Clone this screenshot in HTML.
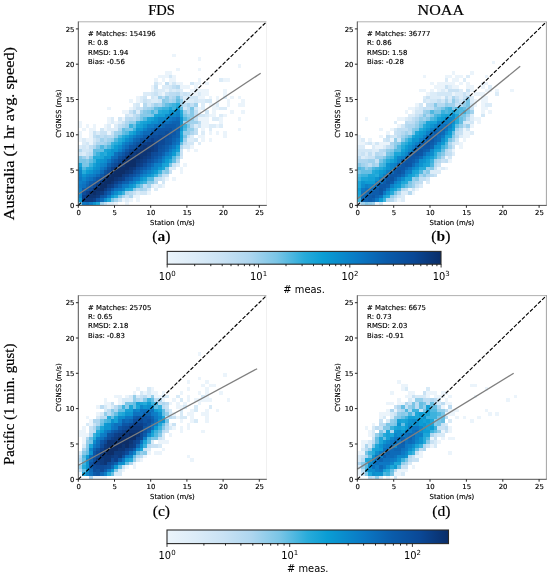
<!DOCTYPE html>
<html><head><meta charset="utf-8"><title>CYGNSS vs station wind speed</title>
<style>
html,body{margin:0;padding:0;background:#fff;}
svg{display:block;}
.t{font-family:"DejaVu Sans","Liberation Sans",sans-serif;font-size:6.9px;fill:#000;stroke:#000;stroke-width:0.15px;}
.c{font-family:"DejaVu Sans","Liberation Sans",sans-serif;font-size:9.9px;fill:#000;}
.s{font-family:"Liberation Serif","DejaVu Serif",serif;fill:#000;stroke:#000;stroke-width:0.2px;}
</style></head><body>
<svg width="550" height="577" viewBox="0 0 550 577">
<defs><linearGradient id="cm" x1="0" x2="1" y1="0" y2="0">
<stop offset="0.0" stop-color="#ebf4fb"/>
<stop offset="0.1" stop-color="#dcecf8"/>
<stop offset="0.2" stop-color="#c9e2f4"/>
<stop offset="0.3" stop-color="#aed6ef"/>
<stop offset="0.4" stop-color="#7ac5e6"/>
<stop offset="0.5" stop-color="#28abda"/>
<stop offset="0.57" stop-color="#0a9dd4"/>
<stop offset="0.7" stop-color="#0a78c4"/>
<stop offset="0.8" stop-color="#0a5cab"/>
<stop offset="0.9" stop-color="#0a4896"/>
<stop offset="1.0" stop-color="#0a2d68"/>
</linearGradient><filter id="bl" x="-5%" y="-5%" width="110%" height="110%"><feGaussianBlur stdDeviation="0.55"/></filter></defs>
<rect width="550" height="577" fill="#fff"/>
<clipPath id="cpa"><rect x="78.3" y="21.8" width="188.2" height="183.6"/></clipPath>
<g clip-path="url(#cpa)"><g filter="url(#bl)"><g transform="translate(78.3,205.4) scale(3.6192,-3.5308)" shape-rendering="crispEdges">
<path fill="#ebf4fb" d="M0 18h1v1h-1zM0 19h1v1h-1zM0 20h1v1h-1zM0 22h1v1h-1zM0 23h1v1h-1zM1 21h1v1h-1zM2 18h1v1h-1zM2 22h1v1h-1zM3 17h1v1h-1zM3 18h1v1h-1zM3 19h1v1h-1zM3 20h1v1h-1zM3 21h1v1h-1zM4 21h1v1h-1zM4 22h1v1h-1zM7 21h1v1h-1zM7 22h1v1h-1zM8 20h1v1h-1zM8 23h1v1h-1zM8 24h1v1h-1zM8 27h1v1h-1zM10 0h1v1h-1zM10 23h1v1h-1zM12 1h1v1h-1zM12 24h1v1h-1zM12 26h1v1h-1zM13 0h1v1h-1zM13 26h1v1h-1zM14 1h1v1h-1zM14 27h1v1h-1zM14 29h1v1h-1zM15 2h1v1h-1zM16 1h1v1h-1zM16 2h1v1h-1zM16 29h1v1h-1zM16 30h1v1h-1zM19 3h1v1h-1zM20 32h1v1h-1zM20 33h1v1h-1zM21 5h1v1h-1zM21 35h1v1h-1zM22 34h1v1h-1zM22 36h1v1h-1zM23 5h1v1h-1zM23 31h1v1h-1zM23 35h1v1h-1zM23 36h1v1h-1zM24 7h1v1h-1zM24 32h1v1h-1zM24 36h1v1h-1zM24 37h1v1h-1zM25 34h1v1h-1zM25 35h1v1h-1zM25 37h1v1h-1zM26 7h1v1h-1zM26 35h1v1h-1zM26 36h1v1h-1zM26 42h1v1h-1zM27 34h1v1h-1zM27 38h1v1h-1zM28 9h1v1h-1zM28 10h1v1h-1zM28 33h1v1h-1zM28 34h1v1h-1zM29 11h1v1h-1zM29 33h1v1h-1zM30 15h1v1h-1zM30 33h1v1h-1zM31 16h1v1h-1zM31 31h1v1h-1zM31 32h1v1h-1zM32 15h1v1h-1zM32 31h1v1h-1zM32 32h1v1h-1zM32 33h1v1h-1zM32 34h1v1h-1zM33 19h1v1h-1zM33 24h1v1h-1zM33 26h1v1h-1zM33 27h1v1h-1zM33 30h1v1h-1zM33 32h1v1h-1zM33 34h1v1h-1zM33 35h1v1h-1zM33 38h1v1h-1zM33 41h1v1h-1zM34 18h1v1h-1zM34 19h1v1h-1zM34 21h1v1h-1zM34 22h1v1h-1zM34 23h1v1h-1zM34 24h1v1h-1zM34 30h1v1h-1zM34 31h1v1h-1zM34 32h1v1h-1zM35 22h1v1h-1zM35 23h1v1h-1zM35 24h1v1h-1zM35 31h1v1h-1zM35 32h1v1h-1zM35 34h1v1h-1zM36 18h1v1h-1zM36 20h1v1h-1zM36 25h1v1h-1zM36 28h1v1h-1zM36 30h1v1h-1zM37 25h1v1h-1zM37 26h1v1h-1zM37 27h1v1h-1zM37 28h1v1h-1zM38 20h1v1h-1zM38 22h1v1h-1zM38 27h1v1h-1zM38 29h1v1h-1zM38 30h1v1h-1zM39 23h1v1h-1zM39 24h1v1h-1zM40 19h1v1h-1zM40 20h1v1h-1zM40 25h1v1h-1zM40 31h1v1h-1zM40 32h1v1h-1zM40 35h1v1h-1zM41 28h1v1h-1zM41 29h1v1h-1zM41 35h1v1h-1zM42 26h1v1h-1zM42 30h1v1h-1zM44 21h1v1h-1zM44 24h1v1h-1zM44 28h1v1h-1zM44 30h1v1h-1zM44 39h1v1h-1zM45 26h1v1h-1zM45 28h1v1h-1zM45 29h1v1h-1z"/>
<path fill="#dcecf8" d="M0 16h1v1h-1zM1 14h1v1h-1zM1 17h1v1h-1zM1 18h1v1h-1zM2 16h1v1h-1zM5 20h1v1h-1zM8 0h1v1h-1zM8 21h1v1h-1zM8 22h1v1h-1zM9 0h1v1h-1zM9 21h1v1h-1zM9 23h1v1h-1zM9 24h1v1h-1zM10 21h1v1h-1zM10 22h1v1h-1zM11 23h1v1h-1zM13 1h1v1h-1zM14 25h1v1h-1zM15 27h1v1h-1zM15 28h1v1h-1zM16 3h1v1h-1zM16 26h1v1h-1zM17 29h1v1h-1zM17 30h1v1h-1zM18 31h1v1h-1zM19 31h1v1h-1zM20 5h1v1h-1zM20 29h1v1h-1zM21 4h1v1h-1zM21 29h1v1h-1zM21 30h1v1h-1zM22 5h1v1h-1zM22 31h1v1h-1zM22 32h1v1h-1zM23 32h1v1h-1zM23 33h1v1h-1zM24 33h1v1h-1zM25 10h1v1h-1zM26 10h1v1h-1zM26 32h1v1h-1zM27 11h1v1h-1zM28 32h1v1h-1zM29 29h1v1h-1zM29 30h1v1h-1zM30 18h1v1h-1zM30 29h1v1h-1zM31 18h1v1h-1zM31 19h1v1h-1zM31 29h1v1h-1zM32 22h1v1h-1zM33 17h1v1h-1zM33 29h1v1h-1zM33 31h1v1h-1zM34 20h1v1h-1zM34 27h1v1h-1zM34 28h1v1h-1zM34 29h1v1h-1zM35 25h1v1h-1zM36 21h1v1h-1zM36 22h1v1h-1zM37 22h1v1h-1zM37 24h1v1h-1zM38 24h1v1h-1zM38 28h1v1h-1zM39 22h1v1h-1zM39 25h1v1h-1zM39 27h1v1h-1zM39 35h1v1h-1zM40 27h1v1h-1zM40 30h1v1h-1z"/>
<path fill="#d2e7f6" d="M0 14h1v1h-1zM1 15h1v1h-1zM1 16h1v1h-1zM2 15h1v1h-1zM2 17h1v1h-1zM4 18h1v1h-1zM6 21h1v1h-1zM11 24h1v1h-1zM13 25h1v1h-1zM16 28h1v1h-1zM17 3h1v1h-1zM18 3h1v1h-1zM18 30h1v1h-1zM19 4h1v1h-1zM19 28h1v1h-1zM19 29h1v1h-1zM20 30h1v1h-1zM20 31h1v1h-1zM21 32h1v1h-1zM21 34h1v1h-1zM22 29h1v1h-1zM23 6h1v1h-1zM23 7h1v1h-1zM25 32h1v1h-1zM25 33h1v1h-1zM25 36h1v1h-1zM26 34h1v1h-1zM27 32h1v1h-1zM28 13h1v1h-1zM28 31h1v1h-1zM29 16h1v1h-1zM29 27h1v1h-1zM30 16h1v1h-1zM30 17h1v1h-1zM30 30h1v1h-1zM30 31h1v1h-1zM31 17h1v1h-1zM31 30h1v1h-1zM31 34h1v1h-1zM32 18h1v1h-1zM32 27h1v1h-1zM32 29h1v1h-1zM32 30h1v1h-1zM33 25h1v1h-1zM34 25h1v1h-1zM35 26h1v1h-1zM35 29h1v1h-1zM36 29h1v1h-1z"/>
<path fill="#c9e2f4" d="M2 14h1v1h-1zM3 15h1v1h-1zM4 17h1v1h-1zM4 20h1v1h-1zM6 20h1v1h-1zM7 20h1v1h-1zM9 20h1v1h-1zM12 23h1v1h-1zM13 2h1v1h-1zM14 26h1v1h-1zM15 3h1v1h-1zM16 27h1v1h-1zM17 27h1v1h-1zM18 29h1v1h-1zM21 31h1v1h-1zM21 33h1v1h-1zM24 8h1v1h-1zM24 31h1v1h-1zM25 9h1v1h-1zM26 11h1v1h-1zM28 14h1v1h-1zM28 15h1v1h-1zM29 31h1v1h-1zM33 22h1v1h-1z"/>
<path fill="#c2dff3" d="M3 16h1v1h-1zM4 19h1v1h-1zM5 18h1v1h-1zM6 19h1v1h-1zM7 0h1v1h-1zM11 1h1v1h-1zM11 22h1v1h-1zM15 25h1v1h-1zM22 7h1v1h-1zM23 8h1v1h-1zM24 34h1v1h-1zM26 33h1v1h-1zM29 28h1v1h-1zM30 19h1v1h-1zM31 28h1v1h-1zM32 20h1v1h-1zM32 21h1v1h-1zM32 24h1v1h-1zM32 26h1v1h-1z"/>
<path fill="#bcdcf2" d="M2 13h1v1h-1zM3 14h1v1h-1zM8 19h1v1h-1zM9 19h1v1h-1zM13 24h1v1h-1zM15 24h1v1h-1zM18 5h1v1h-1zM20 28h1v1h-1zM23 30h1v1h-1zM25 30h1v1h-1zM25 31h1v1h-1zM26 31h1v1h-1zM28 30h1v1h-1zM29 17h1v1h-1zM30 27h1v1h-1zM32 25h1v1h-1zM33 23h1v1h-1z"/>
<path fill="#b5d9f0" d="M0 15h1v1h-1zM5 19h1v1h-1zM7 18h1v1h-1zM7 19h1v1h-1zM12 22h1v1h-1zM14 3h1v1h-1zM14 24h1v1h-1zM16 25h1v1h-1zM18 28h1v1h-1zM21 6h1v1h-1zM21 7h1v1h-1zM27 12h1v1h-1zM27 31h1v1h-1zM27 33h1v1h-1zM30 26h1v1h-1zM31 22h1v1h-1z"/>
<path fill="#aed6ef" d="M4 16h1v1h-1zM5 17h1v1h-1zM6 17h1v1h-1zM11 21h1v1h-1zM12 2h1v1h-1zM13 23h1v1h-1zM14 2h1v1h-1zM15 26h1v1h-1zM16 4h1v1h-1zM18 4h1v1h-1zM18 27h1v1h-1zM22 28h1v1h-1zM25 29h1v1h-1zM26 30h1v1h-1zM28 16h1v1h-1zM30 28h1v1h-1zM31 20h1v1h-1z"/>
<path fill="#a1d2ed" d="M1 13h1v1h-1zM6 0h1v1h-1zM6 18h1v1h-1zM7 17h1v1h-1zM8 18h1v1h-1zM10 1h1v1h-1zM10 20h1v1h-1zM13 3h1v1h-1zM13 22h1v1h-1zM16 24h1v1h-1zM17 4h1v1h-1zM17 26h1v1h-1zM19 5h1v1h-1zM19 27h1v1h-1zM21 28h1v1h-1zM22 30h1v1h-1zM26 29h1v1h-1zM28 28h1v1h-1zM29 18h1v1h-1zM29 23h1v1h-1zM31 23h1v1h-1zM32 23h1v1h-1zM32 28h1v1h-1z"/>
<path fill="#94ceea" d="M9 18h1v1h-1zM10 19h1v1h-1zM11 20h1v1h-1zM14 23h1v1h-1zM15 23h1v1h-1zM20 27h1v1h-1zM23 9h1v1h-1zM24 29h1v1h-1zM24 30h1v1h-1zM27 13h1v1h-1zM28 29h1v1h-1zM29 20h1v1h-1zM29 26h1v1h-1zM30 20h1v1h-1zM30 21h1v1h-1zM30 23h1v1h-1zM30 25h1v1h-1zM31 21h1v1h-1zM31 24h1v1h-1z"/>
<path fill="#87c9e8" d="M0 0h1v1h-1zM0 13h1v1h-1zM2 12h1v1h-1zM3 13h1v1h-1zM5 16h1v1h-1zM8 17h1v1h-1zM15 4h1v1h-1zM17 25h1v1h-1zM18 25h1v1h-1zM18 26h1v1h-1zM19 6h1v1h-1zM19 25h1v1h-1zM20 6h1v1h-1zM22 8h1v1h-1zM23 28h1v1h-1zM23 29h1v1h-1zM24 9h1v1h-1zM31 25h1v1h-1zM31 26h1v1h-1z"/>
<path fill="#7ac5e6" d="M0 12h1v1h-1zM1 11h1v1h-1zM1 12h1v1h-1zM2 11h1v1h-1zM7 16h1v1h-1zM9 1h1v1h-1zM11 2h1v1h-1zM13 21h1v1h-1zM14 21h1v1h-1zM17 5h1v1h-1zM17 24h1v1h-1zM19 26h1v1h-1zM20 25h1v1h-1zM21 26h1v1h-1zM24 10h1v1h-1zM25 11h1v1h-1zM27 30h1v1h-1zM29 19h1v1h-1zM29 25h1v1h-1zM30 22h1v1h-1zM30 24h1v1h-1zM31 27h1v1h-1z"/>
<path fill="#66bee3" d="M3 12h1v1h-1zM4 14h1v1h-1zM4 15h1v1h-1zM5 15h1v1h-1zM6 15h1v1h-1zM12 20h1v1h-1zM12 21h1v1h-1zM15 22h1v1h-1zM21 27h1v1h-1zM24 28h1v1h-1zM26 12h1v1h-1zM27 29h1v1h-1zM28 17h1v1h-1zM28 27h1v1h-1z"/>
<path fill="#51b8e0" d="M1 10h1v1h-1zM6 16h1v1h-1zM8 16h1v1h-1zM10 18h1v1h-1zM11 19h1v1h-1zM13 20h1v1h-1zM16 5h1v1h-1zM18 24h1v1h-1zM19 7h1v1h-1zM20 7h1v1h-1zM20 26h1v1h-1zM22 27h1v1h-1zM25 28h1v1h-1zM26 13h1v1h-1zM27 14h1v1h-1zM29 21h1v1h-1zM29 24h1v1h-1z"/>
<path fill="#3db2dd" d="M3 11h1v1h-1zM4 12h1v1h-1zM5 14h1v1h-1zM9 17h1v1h-1zM12 3h1v1h-1zM14 22h1v1h-1zM15 21h1v1h-1zM16 23h1v1h-1zM18 6h1v1h-1zM21 8h1v1h-1zM22 9h1v1h-1zM23 27h1v1h-1zM24 27h1v1h-1zM26 27h1v1h-1zM26 28h1v1h-1zM29 22h1v1h-1z"/>
<path fill="#28abda" d="M1 9h1v1h-1zM2 10h1v1h-1zM4 13h1v1h-1zM5 13h1v1h-1zM7 14h1v1h-1zM9 16h1v1h-1zM10 2h1v1h-1zM10 17h1v1h-1zM11 18h1v1h-1zM12 19h1v1h-1zM14 4h1v1h-1zM17 6h1v1h-1zM22 26h1v1h-1zM25 12h1v1h-1zM27 28h1v1h-1zM28 26h1v1h-1z"/>
<path fill="#1da6d8" d="M0 11h1v1h-1zM3 10h1v1h-1zM5 0h1v1h-1zM6 13h1v1h-1zM6 14h1v1h-1zM7 15h1v1h-1zM8 1h1v1h-1zM13 4h1v1h-1zM14 20h1v1h-1zM16 22h1v1h-1zM17 23h1v1h-1zM19 24h1v1h-1zM21 25h1v1h-1zM23 10h1v1h-1zM23 26h1v1h-1zM24 11h1v1h-1zM24 26h1v1h-1zM25 27h1v1h-1zM28 18h1v1h-1zM28 20h1v1h-1zM28 25h1v1h-1z"/>
<path fill="#13a1d6" d="M4 11h1v1h-1zM8 15h1v1h-1zM11 3h1v1h-1zM11 17h1v1h-1zM12 18h1v1h-1zM13 19h1v1h-1zM15 5h1v1h-1zM17 22h1v1h-1zM18 7h1v1h-1zM18 23h1v1h-1zM20 8h1v1h-1zM20 24h1v1h-1zM22 25h1v1h-1zM23 11h1v1h-1zM23 25h1v1h-1zM27 15h1v1h-1zM28 19h1v1h-1z"/>
<path fill="#0a9cd3" d="M2 9h1v1h-1zM5 12h1v1h-1zM8 14h1v1h-1zM9 2h1v1h-1zM10 16h1v1h-1zM15 20h1v1h-1zM16 6h1v1h-1zM19 23h1v1h-1zM21 9h1v1h-1zM22 10h1v1h-1zM24 12h1v1h-1zM26 14h1v1h-1zM27 27h1v1h-1z"/>
<path fill="#0a94d0" d="M0 1h1v1h-1zM0 10h1v1h-1zM1 8h1v1h-1zM3 9h1v1h-1zM4 0h1v1h-1zM4 10h1v1h-1zM5 11h1v1h-1zM6 12h1v1h-1zM7 13h1v1h-1zM8 13h1v1h-1zM9 14h1v1h-1zM9 15h1v1h-1zM10 15h1v1h-1zM14 5h1v1h-1zM16 21h1v1h-1zM17 7h1v1h-1zM17 21h1v1h-1zM18 22h1v1h-1zM19 8h1v1h-1zM21 24h1v1h-1zM25 13h1v1h-1zM25 26h1v1h-1zM26 26h1v1h-1zM27 16h1v1h-1zM28 21h1v1h-1zM28 22h1v1h-1zM28 23h1v1h-1zM28 24h1v1h-1z"/>
<path fill="#0a8dcd" d="M5 10h1v1h-1zM7 1h1v1h-1zM7 12h1v1h-1zM10 3h1v1h-1zM11 16h1v1h-1zM13 18h1v1h-1zM14 19h1v1h-1zM20 9h1v1h-1zM20 23h1v1h-1zM21 23h1v1h-1zM24 13h1v1h-1zM24 25h1v1h-1zM26 15h1v1h-1z"/>
<path fill="#0a86ca" d="M0 9h1v1h-1zM1 7h1v1h-1zM2 8h1v1h-1zM4 9h1v1h-1zM6 11h1v1h-1zM12 4h1v1h-1zM12 17h1v1h-1zM15 6h1v1h-1zM16 20h1v1h-1zM18 8h1v1h-1zM21 10h1v1h-1zM22 11h1v1h-1zM22 24h1v1h-1zM23 12h1v1h-1zM23 24h1v1h-1zM24 24h1v1h-1zM25 14h1v1h-1zM25 25h1v1h-1zM26 25h1v1h-1zM27 26h1v1h-1z"/>
<path fill="#0a7fc7" d="M0 2h1v1h-1zM0 3h1v1h-1zM0 4h1v1h-1zM0 6h1v1h-1zM0 8h1v1h-1zM3 0h1v1h-1zM3 8h1v1h-1zM5 9h1v1h-1zM7 11h1v1h-1zM11 15h1v1h-1zM13 5h1v1h-1zM14 18h1v1h-1zM15 19h1v1h-1zM18 21h1v1h-1zM19 9h1v1h-1zM19 22h1v1h-1zM20 10h1v1h-1zM20 22h1v1h-1zM21 11h1v1h-1zM22 23h1v1h-1zM27 25h1v1h-1z"/>
<path fill="#0a78c4" d="M0 5h1v1h-1zM0 7h1v1h-1zM1 0h1v1h-1zM1 6h1v1h-1zM2 7h1v1h-1zM4 8h1v1h-1zM6 10h1v1h-1zM8 2h1v1h-1zM8 12h1v1h-1zM9 3h1v1h-1zM11 4h1v1h-1zM12 5h1v1h-1zM12 16h1v1h-1zM13 17h1v1h-1zM14 6h1v1h-1zM16 7h1v1h-1zM17 8h1v1h-1zM17 20h1v1h-1zM23 13h1v1h-1zM24 14h1v1h-1zM25 15h1v1h-1zM25 24h1v1h-1zM26 16h1v1h-1zM27 17h1v1h-1z"/>
<path fill="#0a71be" d="M1 5h1v1h-1zM2 0h1v1h-1zM3 7h1v1h-1zM9 13h1v1h-1zM10 4h1v1h-1zM10 14h1v1h-1zM15 7h1v1h-1zM16 19h1v1h-1zM18 9h1v1h-1zM19 21h1v1h-1zM21 22h1v1h-1zM22 12h1v1h-1zM22 22h1v1h-1zM23 23h1v1h-1zM24 23h1v1h-1zM26 24h1v1h-1zM27 18h1v1h-1z"/>
<path fill="#0a6ab8" d="M2 6h1v1h-1zM5 8h1v1h-1zM6 1h1v1h-1zM6 9h1v1h-1zM7 10h1v1h-1zM10 13h1v1h-1zM12 15h1v1h-1zM13 16h1v1h-1zM14 17h1v1h-1zM15 18h1v1h-1zM17 19h1v1h-1zM18 20h1v1h-1zM19 10h1v1h-1zM19 20h1v1h-1zM20 11h1v1h-1zM20 21h1v1h-1zM25 16h1v1h-1zM25 23h1v1h-1zM26 17h1v1h-1zM27 24h1v1h-1z"/>
<path fill="#0a63b1" d="M2 5h1v1h-1zM4 7h1v1h-1zM8 11h1v1h-1zM9 12h1v1h-1zM11 5h1v1h-1zM11 14h1v1h-1zM13 6h1v1h-1zM16 8h1v1h-1zM16 18h1v1h-1zM17 9h1v1h-1zM21 12h1v1h-1zM22 13h1v1h-1zM23 14h1v1h-1zM23 22h1v1h-1zM24 15h1v1h-1zM26 18h1v1h-1zM26 23h1v1h-1zM27 19h1v1h-1zM27 20h1v1h-1zM27 22h1v1h-1zM27 23h1v1h-1z"/>
<path fill="#0a5cab" d="M1 4h1v1h-1zM3 6h1v1h-1zM7 2h1v1h-1zM8 3h1v1h-1zM9 4h1v1h-1zM12 6h1v1h-1zM14 7h1v1h-1zM15 17h1v1h-1zM18 10h1v1h-1zM18 19h1v1h-1zM19 11h1v1h-1zM21 21h1v1h-1zM24 16h1v1h-1zM24 22h1v1h-1zM25 22h1v1h-1zM26 19h1v1h-1zM26 21h1v1h-1zM26 22h1v1h-1zM27 21h1v1h-1z"/>
<path fill="#0a57a6" d="M3 5h1v1h-1zM4 6h1v1h-1zM5 1h1v1h-1zM5 7h1v1h-1zM6 8h1v1h-1zM10 12h1v1h-1zM12 14h1v1h-1zM13 15h1v1h-1zM14 16h1v1h-1zM15 8h1v1h-1zM20 12h1v1h-1zM20 20h1v1h-1zM21 13h1v1h-1zM21 20h1v1h-1zM22 14h1v1h-1zM22 21h1v1h-1zM23 15h1v1h-1zM23 21h1v1h-1zM24 21h1v1h-1zM25 17h1v1h-1zM25 18h1v1h-1zM25 20h1v1h-1zM26 20h1v1h-1z"/>
<path fill="#0a52a0" d="M2 4h1v1h-1zM6 2h1v1h-1zM7 9h1v1h-1zM8 10h1v1h-1zM9 11h1v1h-1zM10 5h1v1h-1zM11 13h1v1h-1zM13 7h1v1h-1zM15 16h1v1h-1zM16 9h1v1h-1zM16 17h1v1h-1zM17 10h1v1h-1zM17 18h1v1h-1zM18 18h1v1h-1zM19 19h1v1h-1zM22 15h1v1h-1zM22 20h1v1h-1zM23 16h1v1h-1zM23 20h1v1h-1zM24 17h1v1h-1zM24 18h1v1h-1zM25 19h1v1h-1zM25 21h1v1h-1z"/>
<path fill="#0a4d9b" d="M1 3h1v1h-1zM7 3h1v1h-1zM11 6h1v1h-1zM14 8h1v1h-1zM18 11h1v1h-1zM19 12h1v1h-1zM20 13h1v1h-1zM20 19h1v1h-1zM21 14h1v1h-1zM21 19h1v1h-1zM22 16h1v1h-1zM23 19h1v1h-1zM24 19h1v1h-1zM24 20h1v1h-1z"/>
<path fill="#0a4896" d="M3 4h1v1h-1zM4 5h1v1h-1zM5 6h1v1h-1zM6 7h1v1h-1zM7 8h1v1h-1zM8 4h1v1h-1zM8 9h1v1h-1zM10 11h1v1h-1zM11 12h1v1h-1zM12 13h1v1h-1zM13 14h1v1h-1zM14 15h1v1h-1zM15 9h1v1h-1zM16 10h1v1h-1zM16 16h1v1h-1zM17 17h1v1h-1zM19 18h1v1h-1zM20 14h1v1h-1zM21 18h1v1h-1zM22 17h1v1h-1zM22 18h1v1h-1zM22 19h1v1h-1zM23 17h1v1h-1zM23 18h1v1h-1z"/>
<path fill="#0a418a" d="M1 2h1v1h-1zM2 3h1v1h-1zM4 1h1v1h-1zM9 5h1v1h-1zM9 10h1v1h-1zM10 6h1v1h-1zM12 7h1v1h-1zM13 8h1v1h-1zM15 15h1v1h-1zM17 11h1v1h-1zM18 12h1v1h-1zM18 17h1v1h-1zM19 13h1v1h-1zM20 18h1v1h-1zM21 15h1v1h-1zM21 16h1v1h-1zM21 17h1v1h-1z"/>
<path fill="#0a3b7f" d="M1 1h1v1h-1zM2 1h1v1h-1zM2 2h1v1h-1zM3 1h1v1h-1zM5 2h1v1h-1zM5 5h1v1h-1zM6 3h1v1h-1zM7 4h1v1h-1zM8 5h1v1h-1zM9 9h1v1h-1zM11 7h1v1h-1zM11 11h1v1h-1zM12 8h1v1h-1zM12 12h1v1h-1zM13 13h1v1h-1zM14 9h1v1h-1zM14 14h1v1h-1zM15 10h1v1h-1zM15 14h1v1h-1zM16 11h1v1h-1zM16 15h1v1h-1zM17 12h1v1h-1zM17 16h1v1h-1zM18 13h1v1h-1zM19 14h1v1h-1zM19 16h1v1h-1zM19 17h1v1h-1zM20 15h1v1h-1zM20 16h1v1h-1zM20 17h1v1h-1z"/>
<path fill="#0a3474" d="M3 2h1v1h-1zM3 3h1v1h-1zM4 2h1v1h-1zM4 4h1v1h-1zM5 3h1v1h-1zM6 6h1v1h-1zM7 7h1v1h-1zM8 8h1v1h-1zM9 6h1v1h-1zM10 7h1v1h-1zM10 10h1v1h-1zM12 11h1v1h-1zM13 9h1v1h-1zM13 12h1v1h-1zM14 10h1v1h-1zM14 13h1v1h-1zM15 13h1v1h-1zM16 12h1v1h-1zM16 14h1v1h-1zM17 13h1v1h-1zM17 14h1v1h-1zM17 15h1v1h-1zM18 14h1v1h-1zM18 15h1v1h-1zM18 16h1v1h-1zM19 15h1v1h-1z"/>
<path fill="#0a2d68" d="M4 3h1v1h-1zM5 4h1v1h-1zM6 4h1v1h-1zM6 5h1v1h-1zM7 5h1v1h-1zM7 6h1v1h-1zM8 6h1v1h-1zM8 7h1v1h-1zM9 7h1v1h-1zM9 8h1v1h-1zM10 8h1v1h-1zM10 9h1v1h-1zM11 8h1v1h-1zM11 9h1v1h-1zM11 10h1v1h-1zM12 9h1v1h-1zM12 10h1v1h-1zM13 10h1v1h-1zM13 11h1v1h-1zM14 11h1v1h-1zM14 12h1v1h-1zM15 11h1v1h-1zM15 12h1v1h-1zM16 13h1v1h-1z"/>
</g></g></g>
<line x1="78.3" y1="194.2" x2="260.7" y2="73.2" stroke="#7f7f7f" stroke-width="1.3"/>
<line x1="78.3" y1="205.4" x2="266.5" y2="21.8" stroke="#000" stroke-width="1.15" stroke-dasharray="3.9 1.7"/>
<line x1="78.3" y1="21.8" x2="266.5" y2="21.8" stroke="#a8a8a8" stroke-width="0.9"/>
<line x1="266.5" y1="21.8" x2="266.5" y2="205.4" stroke="#ececec" stroke-width="0.8"/>
<line x1="78.3" y1="21.5" x2="78.3" y2="205.8" stroke="#3c3c3c" stroke-width="0.9"/>
<line x1="77.89999999999999" y1="205.4" x2="266.8" y2="205.4" stroke="#3c3c3c" stroke-width="0.9"/>
<line x1="78.3" y1="205.4" x2="78.3" y2="207.8" stroke="#111" stroke-width="0.9"/>
<line x1="78.3" y1="205.4" x2="75.89999999999999" y2="205.4" stroke="#111" stroke-width="0.9"/>
<text class="t" x="78.6" y="215.1" text-anchor="middle">0</text>
<text class="t" x="74.5" y="208.0" text-anchor="end">0</text>
<line x1="114.5" y1="205.4" x2="114.5" y2="207.8" stroke="#111" stroke-width="0.9"/>
<line x1="78.3" y1="170.1" x2="75.89999999999999" y2="170.1" stroke="#111" stroke-width="0.9"/>
<text class="t" x="114.8" y="215.1" text-anchor="middle">5</text>
<text class="t" x="74.5" y="172.7" text-anchor="end">5</text>
<line x1="150.7" y1="205.4" x2="150.7" y2="207.8" stroke="#111" stroke-width="0.9"/>
<line x1="78.3" y1="134.8" x2="75.89999999999999" y2="134.8" stroke="#111" stroke-width="0.9"/>
<text class="t" x="151.0" y="215.1" text-anchor="middle">10</text>
<text class="t" x="74.5" y="137.4" text-anchor="end">10</text>
<line x1="186.9" y1="205.4" x2="186.9" y2="207.8" stroke="#111" stroke-width="0.9"/>
<line x1="78.3" y1="99.5" x2="75.89999999999999" y2="99.5" stroke="#111" stroke-width="0.9"/>
<text class="t" x="187.2" y="215.1" text-anchor="middle">15</text>
<text class="t" x="74.5" y="102.1" text-anchor="end">15</text>
<line x1="223.1" y1="205.4" x2="223.1" y2="207.8" stroke="#111" stroke-width="0.9"/>
<line x1="78.3" y1="64.2" x2="75.89999999999999" y2="64.2" stroke="#111" stroke-width="0.9"/>
<text class="t" x="223.4" y="215.1" text-anchor="middle">20</text>
<text class="t" x="74.5" y="66.8" text-anchor="end">20</text>
<line x1="259.3" y1="205.4" x2="259.3" y2="207.8" stroke="#111" stroke-width="0.9"/>
<line x1="78.3" y1="28.9" x2="75.89999999999999" y2="28.9" stroke="#111" stroke-width="0.9"/>
<text class="t" x="259.6" y="215.1" text-anchor="middle">25</text>
<text class="t" x="74.5" y="31.5" text-anchor="end">25</text>
<text class="t" x="172.4" y="224.7" text-anchor="middle">Station (m/s)</text>
<text class="t" transform="translate(60.5,113.6) rotate(-90)" text-anchor="middle">CYGNSS (m/s)</text>
<text class="t" x="88.1" y="36.1"># Matches: 154196</text>
<text class="t" x="88.1" y="45.3">R: 0.8</text>
<text class="t" x="88.1" y="54.5">RMSD: 1.94</text>
<text class="t" x="88.1" y="63.7">Bias: -0.56</text>
<clipPath id="cpb"><rect x="357.3" y="21.8" width="189.1" height="183.6"/></clipPath>
<g clip-path="url(#cpb)"><g filter="url(#bl)"><g transform="translate(357.3,205.4) scale(3.6365,-3.5308)" shape-rendering="crispEdges">
<path fill="#ebf4fb" d="M0 17h1v1h-1zM0 18h1v1h-1zM0 19h1v1h-1zM1 17h1v1h-1zM2 24h1v1h-1zM3 18h1v1h-1zM4 17h1v1h-1zM5 0h1v1h-1zM5 16h1v1h-1zM6 16h1v1h-1zM6 17h1v1h-1zM6 19h1v1h-1zM6 21h1v1h-1zM7 17h1v1h-1zM8 17h1v1h-1zM8 20h1v1h-1zM9 18h1v1h-1zM9 21h1v1h-1zM11 1h1v1h-1zM11 22h1v1h-1zM11 24h1v1h-1zM12 24h1v1h-1zM13 26h1v1h-1zM14 4h1v1h-1zM14 27h1v1h-1zM15 3h1v1h-1zM15 26h1v1h-1zM15 27h1v1h-1zM16 4h1v1h-1zM16 28h1v1h-1zM17 32h1v1h-1zM18 32h1v1h-1zM18 36h1v1h-1zM19 31h1v1h-1zM20 32h1v1h-1zM20 34h1v1h-1zM21 33h1v1h-1zM22 10h1v1h-1zM22 32h1v1h-1zM22 33h1v1h-1zM22 34h1v1h-1zM23 30h1v1h-1zM23 33h1v1h-1zM23 34h1v1h-1zM24 10h1v1h-1zM24 13h1v1h-1zM24 32h1v1h-1zM24 34h1v1h-1zM24 36h1v1h-1zM25 12h1v1h-1zM25 34h1v1h-1zM25 36h1v1h-1zM26 15h1v1h-1zM26 31h1v1h-1zM26 33h1v1h-1zM26 34h1v1h-1zM26 35h1v1h-1zM26 37h1v1h-1zM27 33h1v1h-1zM27 35h1v1h-1zM27 36h1v1h-1zM28 16h1v1h-1zM28 17h1v1h-1zM28 34h1v1h-1zM28 36h1v1h-1zM29 18h1v1h-1zM29 19h1v1h-1zM29 20h1v1h-1zM29 21h1v1h-1zM30 19h1v1h-1zM30 20h1v1h-1zM30 33h1v1h-1zM30 34h1v1h-1zM31 22h1v1h-1zM31 32h1v1h-1zM31 33h1v1h-1zM31 37h1v1h-1zM32 24h1v1h-1zM32 28h1v1h-1zM32 29h1v1h-1zM32 31h1v1h-1zM33 23h1v1h-1zM33 24h1v1h-1zM33 31h1v1h-1zM34 26h1v1h-1zM34 27h1v1h-1zM34 28h1v1h-1zM34 29h1v1h-1zM34 30h1v1h-1zM34 31h1v1h-1zM34 33h1v1h-1zM34 34h1v1h-1zM35 27h1v1h-1zM35 29h1v1h-1zM35 30h1v1h-1zM35 32h1v1h-1zM35 34h1v1h-1zM35 36h1v1h-1zM36 26h1v1h-1zM36 32h1v1h-1zM37 40h1v1h-1zM38 32h1v1h-1zM42 32h1v1h-1z"/>
<path fill="#dcecf8" d="M0 16h1v1h-1zM1 13h1v1h-1zM1 16h1v1h-1zM1 18h1v1h-1zM2 14h1v1h-1zM2 17h1v1h-1zM4 14h1v1h-1zM4 15h1v1h-1zM4 16h1v1h-1zM5 15h1v1h-1zM7 16h1v1h-1zM10 23h1v1h-1zM12 1h1v1h-1zM12 2h1v1h-1zM12 3h1v1h-1zM13 3h1v1h-1zM13 24h1v1h-1zM14 25h1v1h-1zM15 25h1v1h-1zM16 27h1v1h-1zM17 5h1v1h-1zM18 30h1v1h-1zM19 6h1v1h-1zM19 29h1v1h-1zM20 9h1v1h-1zM20 30h1v1h-1zM20 31h1v1h-1zM21 9h1v1h-1zM21 30h1v1h-1zM21 31h1v1h-1zM22 9h1v1h-1zM22 30h1v1h-1zM23 10h1v1h-1zM23 32h1v1h-1zM24 35h1v1h-1zM25 30h1v1h-1zM25 33h1v1h-1zM26 14h1v1h-1zM27 17h1v1h-1zM27 31h1v1h-1zM28 19h1v1h-1zM28 30h1v1h-1zM28 31h1v1h-1zM28 32h1v1h-1zM29 35h1v1h-1zM30 23h1v1h-1zM30 31h1v1h-1zM30 36h1v1h-1zM31 20h1v1h-1zM31 24h1v1h-1zM31 25h1v1h-1zM31 29h1v1h-1zM31 30h1v1h-1zM35 28h1v1h-1zM36 28h1v1h-1zM36 33h1v1h-1zM38 31h1v1h-1z"/>
<path fill="#d2e7f6" d="M0 0h1v1h-1zM0 14h1v1h-1zM0 15h1v1h-1zM1 15h1v1h-1zM2 13h1v1h-1zM2 15h1v1h-1zM3 15h1v1h-1zM3 17h1v1h-1zM5 17h1v1h-1zM6 0h1v1h-1zM7 18h1v1h-1zM9 19h1v1h-1zM10 1h1v1h-1zM10 19h1v1h-1zM10 21h1v1h-1zM11 2h1v1h-1zM11 18h1v1h-1zM12 22h1v1h-1zM14 24h1v1h-1zM15 4h1v1h-1zM16 26h1v1h-1zM17 26h1v1h-1zM17 27h1v1h-1zM17 28h1v1h-1zM18 29h1v1h-1zM19 7h1v1h-1zM20 29h1v1h-1zM21 29h1v1h-1zM22 31h1v1h-1zM23 29h1v1h-1zM23 31h1v1h-1zM24 31h1v1h-1zM25 13h1v1h-1zM25 29h1v1h-1zM25 31h1v1h-1zM26 17h1v1h-1zM27 18h1v1h-1zM28 29h1v1h-1zM29 23h1v1h-1zM30 21h1v1h-1zM31 23h1v1h-1zM31 28h1v1h-1zM34 25h1v1h-1z"/>
<path fill="#c9e2f4" d="M1 14h1v1h-1zM3 13h1v1h-1zM4 13h1v1h-1zM5 12h1v1h-1zM7 14h1v1h-1zM8 18h1v1h-1zM10 20h1v1h-1zM16 5h1v1h-1zM16 25h1v1h-1zM19 27h1v1h-1zM19 30h1v1h-1zM21 8h1v1h-1zM21 10h1v1h-1zM22 11h1v1h-1zM23 12h1v1h-1zM24 33h1v1h-1zM25 15h1v1h-1zM25 32h1v1h-1zM26 16h1v1h-1zM26 32h1v1h-1zM27 28h1v1h-1zM27 30h1v1h-1zM27 32h1v1h-1zM28 20h1v1h-1zM29 30h1v1h-1zM29 31h1v1h-1zM30 32h1v1h-1zM31 27h1v1h-1z"/>
<path fill="#c2dff3" d="M3 11h1v1h-1zM3 14h1v1h-1zM8 16h1v1h-1zM8 19h1v1h-1zM11 20h1v1h-1zM11 21h1v1h-1zM12 21h1v1h-1zM13 4h1v1h-1zM13 21h1v1h-1zM14 23h1v1h-1zM15 24h1v1h-1zM17 6h1v1h-1zM17 7h1v1h-1zM18 7h1v1h-1zM18 27h1v1h-1zM19 28h1v1h-1zM20 27h1v1h-1zM22 29h1v1h-1zM24 12h1v1h-1zM24 30h1v1h-1zM25 14h1v1h-1zM28 21h1v1h-1z"/>
<path fill="#bcdcf2" d="M0 13h1v1h-1zM6 14h1v1h-1zM6 15h1v1h-1zM11 19h1v1h-1zM13 23h1v1h-1zM15 23h1v1h-1zM20 8h1v1h-1zM20 28h1v1h-1zM24 14h1v1h-1zM27 20h1v1h-1zM27 29h1v1h-1zM29 22h1v1h-1zM30 24h1v1h-1z"/>
<path fill="#b5d9f0" d="M5 14h1v1h-1zM7 15h1v1h-1zM9 1h1v1h-1zM9 16h1v1h-1zM10 2h1v1h-1zM12 4h1v1h-1zM12 20h1v1h-1zM13 22h1v1h-1zM14 3h1v1h-1zM14 20h1v1h-1zM16 6h1v1h-1zM16 24h1v1h-1zM17 25h1v1h-1zM21 11h1v1h-1zM22 12h1v1h-1zM22 28h1v1h-1zM23 28h1v1h-1zM24 15h1v1h-1zM27 19h1v1h-1zM28 28h1v1h-1z"/>
<path fill="#aed6ef" d="M0 12h1v1h-1zM1 12h1v1h-1zM2 11h1v1h-1zM2 12h1v1h-1zM5 11h1v1h-1zM8 1h1v1h-1zM9 17h1v1h-1zM11 3h1v1h-1zM14 21h1v1h-1zM14 22h1v1h-1zM15 22h1v1h-1zM19 8h1v1h-1zM19 25h1v1h-1zM23 13h1v1h-1zM24 29h1v1h-1zM25 17h1v1h-1zM26 30h1v1h-1zM29 29h1v1h-1zM30 30h1v1h-1z"/>
<path fill="#a1d2ed" d="M1 0h1v1h-1zM1 11h1v1h-1zM3 12h1v1h-1zM4 0h1v1h-1zM4 11h1v1h-1zM4 12h1v1h-1zM5 13h1v1h-1zM6 13h1v1h-1zM12 19h1v1h-1zM13 20h1v1h-1zM15 5h1v1h-1zM15 6h1v1h-1zM16 23h1v1h-1zM17 8h1v1h-1zM18 9h1v1h-1zM18 24h1v1h-1zM18 26h1v1h-1zM21 12h1v1h-1zM21 27h1v1h-1zM25 16h1v1h-1zM25 28h1v1h-1zM26 18h1v1h-1zM26 28h1v1h-1zM27 21h1v1h-1zM30 22h1v1h-1zM30 25h1v1h-1zM31 26h1v1h-1z"/>
<path fill="#94ceea" d="M2 10h1v1h-1zM3 0h1v1h-1zM8 15h1v1h-1zM9 2h1v1h-1zM10 17h1v1h-1zM10 18h1v1h-1zM15 7h1v1h-1zM16 22h1v1h-1zM17 24h1v1h-1zM19 10h1v1h-1zM19 26h1v1h-1zM22 27h1v1h-1zM24 28h1v1h-1zM26 29h1v1h-1zM28 22h1v1h-1zM29 28h1v1h-1z"/>
<path fill="#87c9e8" d="M0 11h1v1h-1zM2 0h1v1h-1zM7 13h1v1h-1zM9 15h1v1h-1zM10 16h1v1h-1zM11 17h1v1h-1zM12 18h1v1h-1zM13 19h1v1h-1zM14 5h1v1h-1zM15 21h1v1h-1zM16 7h1v1h-1zM18 8h1v1h-1zM18 25h1v1h-1zM19 9h1v1h-1zM19 24h1v1h-1zM20 10h1v1h-1zM20 25h1v1h-1zM21 28h1v1h-1zM23 14h1v1h-1zM26 19h1v1h-1zM26 27h1v1h-1zM29 24h1v1h-1zM30 27h1v1h-1z"/>
<path fill="#7ac5e6" d="M0 9h1v1h-1zM3 10h1v1h-1zM6 12h1v1h-1zM8 14h1v1h-1zM10 3h1v1h-1zM14 6h1v1h-1zM15 20h1v1h-1zM16 21h1v1h-1zM17 23h1v1h-1zM21 26h1v1h-1zM22 13h1v1h-1zM22 26h1v1h-1zM23 27h1v1h-1zM25 18h1v1h-1zM28 25h1v1h-1zM29 25h1v1h-1zM30 26h1v1h-1zM30 28h1v1h-1zM30 29h1v1h-1z"/>
<path fill="#66bee3" d="M1 9h1v1h-1zM1 10h1v1h-1zM2 9h1v1h-1zM3 9h1v1h-1zM9 14h1v1h-1zM13 5h1v1h-1zM14 19h1v1h-1zM17 22h1v1h-1zM18 23h1v1h-1zM22 14h1v1h-1zM23 15h1v1h-1zM24 16h1v1h-1zM26 20h1v1h-1zM27 22h1v1h-1zM28 23h1v1h-1zM28 24h1v1h-1zM29 27h1v1h-1z"/>
<path fill="#51b8e0" d="M0 8h1v1h-1zM0 10h1v1h-1zM4 10h1v1h-1zM6 11h1v1h-1zM7 12h1v1h-1zM8 13h1v1h-1zM10 15h1v1h-1zM11 4h1v1h-1zM11 15h1v1h-1zM11 16h1v1h-1zM13 18h1v1h-1zM17 9h1v1h-1zM20 11h1v1h-1zM20 24h1v1h-1zM20 26h1v1h-1zM21 25h1v1h-1zM24 17h1v1h-1zM24 26h1v1h-1zM24 27h1v1h-1zM27 27h1v1h-1zM28 26h1v1h-1zM28 27h1v1h-1z"/>
<path fill="#3db2dd" d="M0 1h1v1h-1zM0 7h1v1h-1zM1 8h1v1h-1zM2 8h1v1h-1zM5 10h1v1h-1zM7 1h1v1h-1zM7 11h1v1h-1zM9 13h1v1h-1zM12 5h1v1h-1zM12 17h1v1h-1zM16 8h1v1h-1zM20 12h1v1h-1zM21 13h1v1h-1zM21 24h1v1h-1zM22 25h1v1h-1zM23 16h1v1h-1zM23 26h1v1h-1zM25 26h1v1h-1zM25 27h1v1h-1zM27 26h1v1h-1zM29 26h1v1h-1z"/>
<path fill="#28abda" d="M4 9h1v1h-1zM5 8h1v1h-1zM6 10h1v1h-1zM8 2h1v1h-1zM8 12h1v1h-1zM9 3h1v1h-1zM12 16h1v1h-1zM13 6h1v1h-1zM13 17h1v1h-1zM14 18h1v1h-1zM17 10h1v1h-1zM17 21h1v1h-1zM18 10h1v1h-1zM18 22h1v1h-1zM21 14h1v1h-1zM27 23h1v1h-1zM27 24h1v1h-1z"/>
<path fill="#1da6d8" d="M0 2h1v1h-1zM0 5h1v1h-1zM0 6h1v1h-1zM1 7h1v1h-1zM2 7h1v1h-1zM3 8h1v1h-1zM4 8h1v1h-1zM5 9h1v1h-1zM10 4h1v1h-1zM10 14h1v1h-1zM11 14h1v1h-1zM12 6h1v1h-1zM13 7h1v1h-1zM14 7h1v1h-1zM15 8h1v1h-1zM15 19h1v1h-1zM16 9h1v1h-1zM16 20h1v1h-1zM19 11h1v1h-1zM19 23h1v1h-1zM22 15h1v1h-1zM23 25h1v1h-1zM24 18h1v1h-1zM25 19h1v1h-1zM25 25h1v1h-1zM26 26h1v1h-1zM27 25h1v1h-1z"/>
<path fill="#13a1d6" d="M0 3h1v1h-1zM3 7h1v1h-1zM4 7h1v1h-1zM7 2h1v1h-1zM7 10h1v1h-1zM9 12h1v1h-1zM12 15h1v1h-1zM15 9h1v1h-1zM18 11h1v1h-1zM18 21h1v1h-1zM19 12h1v1h-1zM19 22h1v1h-1zM20 13h1v1h-1zM20 23h1v1h-1zM21 15h1v1h-1zM21 23h1v1h-1zM22 24h1v1h-1zM24 19h1v1h-1zM24 25h1v1h-1zM26 21h1v1h-1z"/>
<path fill="#0a9cd3" d="M0 4h1v1h-1zM2 6h1v1h-1zM3 6h1v1h-1zM4 6h1v1h-1zM6 1h1v1h-1zM6 9h1v1h-1zM9 4h1v1h-1zM10 13h1v1h-1zM11 5h1v1h-1zM13 16h1v1h-1zM14 8h1v1h-1zM14 17h1v1h-1zM16 19h1v1h-1zM17 20h1v1h-1zM23 17h1v1h-1zM23 24h1v1h-1zM25 20h1v1h-1zM26 22h1v1h-1z"/>
<path fill="#0a94d0" d="M1 6h1v1h-1zM5 7h1v1h-1zM6 8h1v1h-1zM7 9h1v1h-1zM8 3h1v1h-1zM8 10h1v1h-1zM8 11h1v1h-1zM10 5h1v1h-1zM10 12h1v1h-1zM12 14h1v1h-1zM13 15h1v1h-1zM15 18h1v1h-1zM16 10h1v1h-1zM16 18h1v1h-1zM17 11h1v1h-1zM17 19h1v1h-1zM18 12h1v1h-1zM18 20h1v1h-1zM19 13h1v1h-1zM19 21h1v1h-1zM20 22h1v1h-1zM22 16h1v1h-1z"/>
<path fill="#0a8dcd" d="M1 5h1v1h-1zM11 6h1v1h-1zM12 7h1v1h-1zM14 16h1v1h-1zM15 17h1v1h-1zM17 12h1v1h-1zM20 14h1v1h-1zM21 16h1v1h-1zM23 18h1v1h-1zM25 21h1v1h-1zM26 23h1v1h-1zM26 24h1v1h-1zM26 25h1v1h-1z"/>
<path fill="#0a86ca" d="M3 5h1v1h-1zM9 10h1v1h-1zM9 11h1v1h-1zM11 13h1v1h-1zM13 8h1v1h-1zM13 14h1v1h-1zM14 15h1v1h-1zM15 10h1v1h-1zM18 13h1v1h-1zM20 15h1v1h-1zM21 22h1v1h-1zM22 17h1v1h-1zM22 23h1v1h-1zM24 20h1v1h-1zM25 24h1v1h-1z"/>
<path fill="#0a7fc7" d="M2 5h1v1h-1zM4 5h1v1h-1zM5 6h1v1h-1zM6 7h1v1h-1zM7 8h1v1h-1zM8 9h1v1h-1zM9 5h1v1h-1zM10 6h1v1h-1zM10 11h1v1h-1zM11 12h1v1h-1zM12 13h1v1h-1zM14 9h1v1h-1zM15 16h1v1h-1zM16 11h1v1h-1zM16 17h1v1h-1zM17 18h1v1h-1zM18 19h1v1h-1zM19 14h1v1h-1zM19 20h1v1h-1zM20 21h1v1h-1zM23 23h1v1h-1zM24 23h1v1h-1zM24 24h1v1h-1zM25 22h1v1h-1zM25 23h1v1h-1z"/>
<path fill="#0a78c4" d="M1 4h1v1h-1zM5 1h1v1h-1zM7 3h1v1h-1zM8 4h1v1h-1zM11 7h1v1h-1zM13 9h1v1h-1zM22 22h1v1h-1zM23 19h1v1h-1z"/>
<path fill="#0a71be" d="M1 3h1v1h-1zM2 4h1v1h-1zM3 4h1v1h-1zM6 2h1v1h-1zM6 6h1v1h-1zM14 10h1v1h-1zM18 18h1v1h-1zM21 21h1v1h-1zM23 22h1v1h-1zM24 21h1v1h-1z"/>
<path fill="#0a6ab8" d="M1 2h1v1h-1zM2 3h1v1h-1zM4 4h1v1h-1zM5 5h1v1h-1zM7 7h1v1h-1zM9 9h1v1h-1zM12 8h1v1h-1zM13 13h1v1h-1zM15 11h1v1h-1zM15 15h1v1h-1zM16 12h1v1h-1zM17 13h1v1h-1zM18 14h1v1h-1zM20 20h1v1h-1zM21 17h1v1h-1zM22 18h1v1h-1zM22 19h1v1h-1zM22 21h1v1h-1zM23 20h1v1h-1zM24 22h1v1h-1z"/>
<path fill="#0a63b1" d="M1 1h1v1h-1zM2 1h1v1h-1zM2 2h1v1h-1zM3 3h1v1h-1zM4 1h1v1h-1zM5 2h1v1h-1zM8 8h1v1h-1zM10 7h1v1h-1zM10 10h1v1h-1zM11 11h1v1h-1zM12 12h1v1h-1zM13 10h1v1h-1zM14 14h1v1h-1zM16 16h1v1h-1zM17 17h1v1h-1zM19 15h1v1h-1zM19 19h1v1h-1zM20 16h1v1h-1zM21 18h1v1h-1zM22 20h1v1h-1zM23 21h1v1h-1z"/>
<path fill="#0a5cab" d="M3 1h1v1h-1zM3 2h1v1h-1zM4 3h1v1h-1zM5 3h1v1h-1zM5 4h1v1h-1zM7 4h1v1h-1zM7 6h1v1h-1zM8 5h1v1h-1zM9 6h1v1h-1zM11 8h1v1h-1zM12 9h1v1h-1zM15 12h1v1h-1zM16 13h1v1h-1zM17 16h1v1h-1zM18 15h1v1h-1zM19 18h1v1h-1zM20 17h1v1h-1zM20 19h1v1h-1zM21 19h1v1h-1zM21 20h1v1h-1z"/>
<path fill="#0a57a6" d="M4 2h1v1h-1zM6 3h1v1h-1zM6 5h1v1h-1zM7 5h1v1h-1zM8 7h1v1h-1zM9 8h1v1h-1zM10 8h1v1h-1zM10 9h1v1h-1zM11 10h1v1h-1zM12 10h1v1h-1zM12 11h1v1h-1zM13 12h1v1h-1zM14 11h1v1h-1zM14 12h1v1h-1zM14 13h1v1h-1zM15 13h1v1h-1zM15 14h1v1h-1zM16 15h1v1h-1zM17 14h1v1h-1zM18 16h1v1h-1zM18 17h1v1h-1zM19 16h1v1h-1zM20 18h1v1h-1z"/>
<path fill="#0a52a0" d="M6 4h1v1h-1zM8 6h1v1h-1zM9 7h1v1h-1zM11 9h1v1h-1zM13 11h1v1h-1zM16 14h1v1h-1zM17 15h1v1h-1zM19 17h1v1h-1z"/>
</g></g></g>
<line x1="357.3" y1="199.0" x2="520.2" y2="66.3" stroke="#7f7f7f" stroke-width="1.3"/>
<line x1="357.3" y1="205.4" x2="546.4" y2="21.8" stroke="#000" stroke-width="1.15" stroke-dasharray="3.9 1.7"/>
<line x1="357.3" y1="21.8" x2="546.4" y2="21.8" stroke="#a8a8a8" stroke-width="0.9"/>
<line x1="546.4" y1="21.8" x2="546.4" y2="205.4" stroke="#8a8a8a" stroke-width="0.8"/>
<line x1="357.3" y1="21.5" x2="357.3" y2="205.8" stroke="#3c3c3c" stroke-width="0.9"/>
<line x1="356.90000000000003" y1="205.4" x2="546.6999999999999" y2="205.4" stroke="#3c3c3c" stroke-width="0.9"/>
<line x1="357.3" y1="205.4" x2="357.3" y2="207.8" stroke="#111" stroke-width="0.9"/>
<line x1="357.3" y1="205.4" x2="354.90000000000003" y2="205.4" stroke="#111" stroke-width="0.9"/>
<text class="t" x="357.6" y="215.1" text-anchor="middle">0</text>
<text class="t" x="353.5" y="208.0" text-anchor="end">0</text>
<line x1="393.7" y1="205.4" x2="393.7" y2="207.8" stroke="#111" stroke-width="0.9"/>
<line x1="357.3" y1="170.1" x2="354.90000000000003" y2="170.1" stroke="#111" stroke-width="0.9"/>
<text class="t" x="394.0" y="215.1" text-anchor="middle">5</text>
<text class="t" x="353.5" y="172.7" text-anchor="end">5</text>
<line x1="430.0" y1="205.4" x2="430.0" y2="207.8" stroke="#111" stroke-width="0.9"/>
<line x1="357.3" y1="134.8" x2="354.90000000000003" y2="134.8" stroke="#111" stroke-width="0.9"/>
<text class="t" x="430.3" y="215.1" text-anchor="middle">10</text>
<text class="t" x="353.5" y="137.4" text-anchor="end">10</text>
<line x1="466.4" y1="205.4" x2="466.4" y2="207.8" stroke="#111" stroke-width="0.9"/>
<line x1="357.3" y1="99.5" x2="354.90000000000003" y2="99.5" stroke="#111" stroke-width="0.9"/>
<text class="t" x="466.7" y="215.1" text-anchor="middle">15</text>
<text class="t" x="353.5" y="102.1" text-anchor="end">15</text>
<line x1="502.8" y1="205.4" x2="502.8" y2="207.8" stroke="#111" stroke-width="0.9"/>
<line x1="357.3" y1="64.2" x2="354.90000000000003" y2="64.2" stroke="#111" stroke-width="0.9"/>
<text class="t" x="503.1" y="215.1" text-anchor="middle">20</text>
<text class="t" x="353.5" y="66.8" text-anchor="end">20</text>
<line x1="539.1" y1="205.4" x2="539.1" y2="207.8" stroke="#111" stroke-width="0.9"/>
<line x1="357.3" y1="28.9" x2="354.90000000000003" y2="28.9" stroke="#111" stroke-width="0.9"/>
<text class="t" x="539.4" y="215.1" text-anchor="middle">25</text>
<text class="t" x="353.5" y="31.5" text-anchor="end">25</text>
<text class="t" x="451.9" y="224.7" text-anchor="middle">Station (m/s)</text>
<text class="t" transform="translate(339.5,113.6) rotate(-90)" text-anchor="middle">CYGNSS (m/s)</text>
<text class="t" x="367.1" y="36.1"># Matches: 36777</text>
<text class="t" x="367.1" y="45.3">R: 0.86</text>
<text class="t" x="367.1" y="54.5">RMSD: 1.58</text>
<text class="t" x="367.1" y="63.7">Bias: -0.28</text>
<clipPath id="cpc"><rect x="78.3" y="295.6" width="188.2" height="183.7"/></clipPath>
<g clip-path="url(#cpc)"><g filter="url(#bl)"><g transform="translate(78.3,479.3) scale(3.6192,-3.5327)" shape-rendering="crispEdges">
<path fill="#ebf4fb" d="M0 1h1v1h-1zM0 12h1v1h-1zM0 13h1v1h-1zM1 10h1v1h-1zM1 11h1v1h-1zM1 12h1v1h-1zM1 13h1v1h-1zM1 14h1v1h-1zM2 12h1v1h-1zM2 17h1v1h-1zM3 15h1v1h-1zM3 16h1v1h-1zM4 0h1v1h-1zM5 0h1v1h-1zM5 18h1v1h-1zM5 20h1v1h-1zM6 0h1v1h-1zM7 0h1v1h-1zM7 21h1v1h-1zM7 22h1v1h-1zM8 20h1v1h-1zM8 21h1v1h-1zM10 23h1v1h-1zM11 21h1v1h-1zM11 22h1v1h-1zM11 23h1v1h-1zM12 2h1v1h-1zM13 3h1v1h-1zM13 23h1v1h-1zM15 3h1v1h-1zM15 4h1v1h-1zM15 24h1v1h-1zM16 25h1v1h-1zM17 5h1v1h-1zM18 6h1v1h-1zM18 24h1v1h-1zM19 7h1v1h-1zM20 24h1v1h-1zM20 25h1v1h-1zM21 7h1v1h-1zM21 23h1v1h-1zM21 24h1v1h-1zM22 7h1v1h-1zM22 10h1v1h-1zM22 23h1v1h-1zM23 8h1v1h-1zM23 10h1v1h-1zM23 22h1v1h-1zM23 24h1v1h-1zM24 10h1v1h-1zM25 12h1v1h-1zM25 15h1v1h-1zM25 21h1v1h-1zM26 14h1v1h-1zM26 18h1v1h-1zM26 22h1v1h-1zM27 17h1v1h-1zM27 20h1v1h-1zM27 21h1v1h-1zM28 13h1v1h-1zM28 14h1v1h-1zM28 16h1v1h-1zM28 20h1v1h-1zM28 24h1v1h-1zM29 21h1v1h-1zM30 6h1v1h-1zM30 14h1v1h-1zM30 15h1v1h-1zM30 18h1v1h-1zM30 22h1v1h-1zM30 23h1v1h-1zM30 25h1v1h-1zM30 27h1v1h-1zM31 5h1v1h-1zM31 16h1v1h-1zM31 17h1v1h-1zM31 18h1v1h-1zM31 19h1v1h-1zM32 22h1v1h-1zM33 21h1v1h-1zM33 22h1v1h-1zM33 24h1v1h-1zM33 28h1v1h-1zM33 35h1v1h-1zM34 13h1v1h-1zM34 18h1v1h-1zM34 22h1v1h-1zM34 26h1v1h-1zM35 16h1v1h-1zM35 17h1v1h-1zM35 18h1v1h-1zM35 19h1v1h-1zM35 22h1v1h-1zM35 23h1v1h-1zM35 24h1v1h-1zM35 25h1v1h-1zM35 27h1v1h-1zM36 22h1v1h-1zM36 26h1v1h-1zM37 26h1v1h-1zM38 19h1v1h-1zM39 24h1v1h-1zM40 29h1v1h-1zM41 22h1v1h-1z"/>
<path fill="#d7eaf7" d="M0 7h1v1h-1zM1 9h1v1h-1zM2 15h1v1h-1zM5 17h1v1h-1zM6 18h1v1h-1zM7 19h1v1h-1zM7 20h1v1h-1zM9 20h1v1h-1zM10 1h1v1h-1zM11 1h1v1h-1zM11 2h1v1h-1zM12 21h1v1h-1zM12 22h1v1h-1zM13 22h1v1h-1zM14 22h1v1h-1zM14 23h1v1h-1zM16 5h1v1h-1zM16 23h1v1h-1zM17 24h1v1h-1zM19 8h1v1h-1zM19 23h1v1h-1zM19 24h1v1h-1zM19 25h1v1h-1zM20 10h1v1h-1zM22 9h1v1h-1zM23 11h1v1h-1zM23 12h1v1h-1zM24 23h1v1h-1zM25 14h1v1h-1zM25 18h1v1h-1zM25 19h1v1h-1zM27 23h1v1h-1zM28 17h1v1h-1zM28 18h1v1h-1zM28 19h1v1h-1zM28 22h1v1h-1zM29 17h1v1h-1zM29 20h1v1h-1zM32 16h1v1h-1zM32 19h1v1h-1zM32 20h1v1h-1zM34 23h1v1h-1zM36 20h1v1h-1z"/>
<path fill="#c9e2f4" d="M0 4h1v1h-1zM3 13h1v1h-1zM3 14h1v1h-1zM4 15h1v1h-1zM9 21h1v1h-1zM12 3h1v1h-1zM17 23h1v1h-1zM18 8h1v1h-1zM20 9h1v1h-1zM21 9h1v1h-1zM22 11h1v1h-1zM23 23h1v1h-1zM24 13h1v1h-1zM24 17h1v1h-1zM24 20h1v1h-1zM26 15h1v1h-1zM26 17h1v1h-1z"/>
<path fill="#bcdcf2" d="M0 2h1v1h-1zM0 6h1v1h-1zM3 12h1v1h-1zM4 13h1v1h-1zM6 17h1v1h-1zM6 20h1v1h-1zM7 17h1v1h-1zM8 18h1v1h-1zM8 19h1v1h-1zM10 20h1v1h-1zM17 6h1v1h-1zM17 22h1v1h-1zM18 23h1v1h-1zM19 9h1v1h-1zM21 22h1v1h-1zM22 21h1v1h-1zM23 13h1v1h-1zM23 20h1v1h-1zM24 14h1v1h-1zM24 19h1v1h-1zM24 21h1v1h-1zM25 17h1v1h-1z"/>
<path fill="#aed6ef" d="M0 5h1v1h-1zM1 8h1v1h-1zM2 11h1v1h-1zM3 0h1v1h-1zM4 14h1v1h-1zM4 16h1v1h-1zM5 15h1v1h-1zM5 16h1v1h-1zM10 19h1v1h-1zM14 4h1v1h-1zM16 6h1v1h-1zM16 22h1v1h-1zM22 22h1v1h-1zM23 21h1v1h-1zM24 15h1v1h-1z"/>
<path fill="#94ceea" d="M0 3h1v1h-1zM2 10h1v1h-1zM7 18h1v1h-1zM9 18h1v1h-1zM11 20h1v1h-1zM15 5h1v1h-1zM15 22h1v1h-1zM15 23h1v1h-1zM17 7h1v1h-1zM20 23h1v1h-1zM24 18h1v1h-1z"/>
<path fill="#87c9e8" d="M1 7h1v1h-1zM2 9h1v1h-1zM9 19h1v1h-1zM10 2h1v1h-1zM13 20h1v1h-1zM18 7h1v1h-1zM18 22h1v1h-1zM22 12h1v1h-1zM23 14h1v1h-1z"/>
<path fill="#7ac5e6" d="M2 8h1v1h-1zM3 10h1v1h-1zM6 16h1v1h-1zM13 21h1v1h-1zM14 21h1v1h-1zM20 11h1v1h-1zM21 11h1v1h-1zM24 16h1v1h-1z"/>
<path fill="#66bee3" d="M1 2h1v1h-1zM1 5h1v1h-1zM2 7h1v1h-1zM3 11h1v1h-1zM5 14h1v1h-1zM6 15h1v1h-1zM9 1h1v1h-1zM9 17h1v1h-1zM10 18h1v1h-1zM11 3h1v1h-1zM11 19h1v1h-1zM12 19h1v1h-1zM13 4h1v1h-1zM15 6h1v1h-1zM15 20h1v1h-1zM15 21h1v1h-1zM16 7h1v1h-1zM19 10h1v1h-1zM20 22h1v1h-1zM21 20h1v1h-1zM22 13h1v1h-1zM23 15h1v1h-1zM23 18h1v1h-1zM23 19h1v1h-1z"/>
<path fill="#51b8e0" d="M1 6h1v1h-1zM7 16h1v1h-1zM19 11h1v1h-1zM21 12h1v1h-1z"/>
<path fill="#3db2dd" d="M1 4h1v1h-1zM4 12h1v1h-1zM8 16h1v1h-1zM12 20h1v1h-1zM18 9h1v1h-1zM19 22h1v1h-1zM20 21h1v1h-1zM21 13h1v1h-1zM21 21h1v1h-1zM22 14h1v1h-1zM22 20h1v1h-1z"/>
<path fill="#28abda" d="M1 3h1v1h-1zM4 11h1v1h-1zM5 13h1v1h-1zM8 1h1v1h-1zM8 17h1v1h-1zM11 18h1v1h-1zM14 5h1v1h-1zM18 21h1v1h-1z"/>
<path fill="#1da6d8" d="M1 1h1v1h-1zM3 9h1v1h-1zM6 14h1v1h-1zM10 17h1v1h-1zM12 18h1v1h-1zM14 20h1v1h-1zM16 20h1v1h-1zM17 8h1v1h-1zM17 21h1v1h-1zM18 10h1v1h-1zM20 12h1v1h-1zM22 15h1v1h-1zM22 19h1v1h-1zM23 17h1v1h-1z"/>
<path fill="#13a1d6" d="M5 12h1v1h-1zM10 16h1v1h-1zM13 5h1v1h-1zM13 19h1v1h-1zM14 19h1v1h-1zM16 21h1v1h-1z"/>
<path fill="#0a9cd3" d="M2 2h1v1h-1zM2 6h1v1h-1zM6 13h1v1h-1zM7 15h1v1h-1zM9 2h1v1h-1zM10 3h1v1h-1zM19 21h1v1h-1zM20 13h1v1h-1zM21 14h1v1h-1zM21 19h1v1h-1z"/>
<path fill="#0a94d0" d="M2 3h1v1h-1zM2 4h1v1h-1zM3 7h1v1h-1zM7 14h1v1h-1zM8 14h1v1h-1zM8 15h1v1h-1zM9 16h1v1h-1zM12 4h1v1h-1zM13 18h1v1h-1zM14 18h1v1h-1zM18 20h1v1h-1zM22 16h1v1h-1zM22 18h1v1h-1zM23 16h1v1h-1z"/>
<path fill="#0a8dcd" d="M2 5h1v1h-1zM4 10h1v1h-1zM11 4h1v1h-1zM11 17h1v1h-1zM12 17h1v1h-1zM16 8h1v1h-1zM17 9h1v1h-1zM19 20h1v1h-1zM20 20h1v1h-1z"/>
<path fill="#0a86ca" d="M2 1h1v1h-1zM3 8h1v1h-1zM14 6h1v1h-1zM15 7h1v1h-1zM16 19h1v1h-1zM17 20h1v1h-1zM19 12h1v1h-1zM22 17h1v1h-1z"/>
<path fill="#0a7fc7" d="M5 11h1v1h-1zM6 12h1v1h-1zM7 1h1v1h-1zM7 13h1v1h-1zM9 15h1v1h-1zM11 16h1v1h-1zM15 19h1v1h-1zM18 11h1v1h-1zM21 15h1v1h-1zM21 18h1v1h-1z"/>
<path fill="#0a78c4" d="M4 9h1v1h-1zM7 12h1v1h-1zM8 2h1v1h-1zM9 14h1v1h-1zM12 5h1v1h-1zM13 6h1v1h-1zM13 17h1v1h-1zM14 17h1v1h-1zM19 19h1v1h-1zM20 18h1v1h-1zM21 17h1v1h-1z"/>
<path fill="#0a71be" d="M3 1h1v1h-1zM5 10h1v1h-1zM6 11h1v1h-1zM8 13h1v1h-1zM10 14h1v1h-1zM10 15h1v1h-1zM11 15h1v1h-1zM15 18h1v1h-1zM16 18h1v1h-1zM17 10h1v1h-1zM17 18h1v1h-1zM17 19h1v1h-1zM18 19h1v1h-1zM20 14h1v1h-1zM20 19h1v1h-1zM21 16h1v1h-1z"/>
<path fill="#0a6ab8" d="M3 2h1v1h-1zM3 6h1v1h-1zM5 9h1v1h-1zM6 1h1v1h-1zM9 3h1v1h-1zM13 16h1v1h-1zM14 7h1v1h-1zM20 15h1v1h-1z"/>
<path fill="#0a63b1" d="M3 5h1v1h-1zM4 8h1v1h-1zM10 4h1v1h-1zM12 16h1v1h-1zM14 16h1v1h-1zM16 9h1v1h-1zM18 18h1v1h-1zM19 13h1v1h-1zM19 18h1v1h-1zM20 17h1v1h-1z"/>
<path fill="#0a5cab" d="M3 3h1v1h-1zM4 1h1v1h-1zM7 2h1v1h-1zM7 11h1v1h-1zM9 13h1v1h-1zM11 5h1v1h-1zM15 8h1v1h-1zM15 17h1v1h-1zM18 12h1v1h-1zM19 14h1v1h-1zM20 16h1v1h-1z"/>
<path fill="#0a57a6" d="M3 4h1v1h-1zM4 6h1v1h-1zM4 7h1v1h-1zM5 1h1v1h-1zM6 10h1v1h-1zM11 14h1v1h-1zM12 15h1v1h-1zM13 15h1v1h-1zM16 17h1v1h-1zM19 17h1v1h-1z"/>
<path fill="#0a52a0" d="M5 2h1v1h-1zM5 8h1v1h-1zM8 3h1v1h-1zM8 12h1v1h-1zM9 4h1v1h-1zM10 13h1v1h-1zM12 6h1v1h-1zM17 17h1v1h-1zM18 13h1v1h-1zM18 14h1v1h-1zM18 16h1v1h-1zM18 17h1v1h-1zM19 15h1v1h-1z"/>
<path fill="#0a4d9b" d="M4 2h1v1h-1zM4 3h1v1h-1zM4 5h1v1h-1zM6 9h1v1h-1zM7 3h1v1h-1zM8 11h1v1h-1zM9 12h1v1h-1zM12 14h1v1h-1zM13 7h1v1h-1zM14 15h1v1h-1zM15 16h1v1h-1zM16 16h1v1h-1zM19 16h1v1h-1z"/>
<path fill="#0a4896" d="M5 3h1v1h-1zM5 6h1v1h-1zM5 7h1v1h-1zM6 2h1v1h-1zM6 3h1v1h-1zM7 10h1v1h-1zM8 4h1v1h-1zM9 5h1v1h-1zM11 13h1v1h-1zM13 14h1v1h-1zM14 8h1v1h-1zM16 10h1v1h-1zM17 11h1v1h-1zM17 12h1v1h-1zM17 16h1v1h-1zM18 15h1v1h-1z"/>
<path fill="#0a418a" d="M4 4h1v1h-1zM5 4h1v1h-1zM6 8h1v1h-1zM9 11h1v1h-1zM10 5h1v1h-1zM10 6h1v1h-1zM10 12h1v1h-1zM12 7h1v1h-1zM12 13h1v1h-1zM13 8h1v1h-1zM15 9h1v1h-1zM15 10h1v1h-1zM15 15h1v1h-1zM16 11h1v1h-1zM16 15h1v1h-1zM17 13h1v1h-1zM17 15h1v1h-1z"/>
<path fill="#0a3b7f" d="M5 5h1v1h-1zM6 4h1v1h-1zM6 5h1v1h-1zM6 7h1v1h-1zM7 9h1v1h-1zM9 6h1v1h-1zM10 7h1v1h-1zM10 11h1v1h-1zM11 6h1v1h-1zM11 7h1v1h-1zM11 12h1v1h-1zM13 13h1v1h-1zM14 9h1v1h-1zM14 14h1v1h-1zM15 14h1v1h-1zM16 14h1v1h-1zM17 14h1v1h-1z"/>
<path fill="#0a3474" d="M6 6h1v1h-1zM7 4h1v1h-1zM7 5h1v1h-1zM7 6h1v1h-1zM7 7h1v1h-1zM7 8h1v1h-1zM8 5h1v1h-1zM8 6h1v1h-1zM8 9h1v1h-1zM8 10h1v1h-1zM9 9h1v1h-1zM9 10h1v1h-1zM10 10h1v1h-1zM11 8h1v1h-1zM12 8h1v1h-1zM12 9h1v1h-1zM12 12h1v1h-1zM13 12h1v1h-1zM14 10h1v1h-1zM14 13h1v1h-1zM15 13h1v1h-1zM16 12h1v1h-1zM16 13h1v1h-1z"/>
<path fill="#0a2d68" d="M8 7h1v1h-1zM8 8h1v1h-1zM9 7h1v1h-1zM10 9h1v1h-1zM11 9h1v1h-1zM11 11h1v1h-1zM12 11h1v1h-1zM13 9h1v1h-1zM13 10h1v1h-1zM13 11h1v1h-1zM14 11h1v1h-1zM14 12h1v1h-1zM15 11h1v1h-1zM15 12h1v1h-1z"/>
<path fill="#0a2d68" d="M9 8h1v1h-1zM10 8h1v1h-1zM11 10h1v1h-1zM12 10h1v1h-1z"/>
</g></g></g>
<line x1="78.3" y1="465.2" x2="257.1" y2="368.7" stroke="#7f7f7f" stroke-width="1.3"/>
<line x1="78.3" y1="479.3" x2="266.5" y2="295.6" stroke="#000" stroke-width="1.15" stroke-dasharray="3.9 1.7"/>
<line x1="78.3" y1="295.6" x2="266.5" y2="295.6" stroke="#a8a8a8" stroke-width="0.9"/>
<line x1="266.5" y1="295.6" x2="266.5" y2="479.3" stroke="#ececec" stroke-width="0.8"/>
<line x1="78.3" y1="295.3" x2="78.3" y2="479.7" stroke="#3c3c3c" stroke-width="0.9"/>
<line x1="77.89999999999999" y1="479.3" x2="266.8" y2="479.3" stroke="#3c3c3c" stroke-width="0.9"/>
<line x1="78.3" y1="479.3" x2="78.3" y2="481.7" stroke="#111" stroke-width="0.9"/>
<line x1="78.3" y1="479.3" x2="75.89999999999999" y2="479.3" stroke="#111" stroke-width="0.9"/>
<text class="t" x="78.6" y="489.0" text-anchor="middle">0</text>
<text class="t" x="74.5" y="481.9" text-anchor="end">0</text>
<line x1="114.5" y1="479.3" x2="114.5" y2="481.7" stroke="#111" stroke-width="0.9"/>
<line x1="78.3" y1="444.0" x2="75.89999999999999" y2="444.0" stroke="#111" stroke-width="0.9"/>
<text class="t" x="114.8" y="489.0" text-anchor="middle">5</text>
<text class="t" x="74.5" y="446.6" text-anchor="end">5</text>
<line x1="150.7" y1="479.3" x2="150.7" y2="481.7" stroke="#111" stroke-width="0.9"/>
<line x1="78.3" y1="408.6" x2="75.89999999999999" y2="408.6" stroke="#111" stroke-width="0.9"/>
<text class="t" x="151.0" y="489.0" text-anchor="middle">10</text>
<text class="t" x="74.5" y="411.2" text-anchor="end">10</text>
<line x1="186.9" y1="479.3" x2="186.9" y2="481.7" stroke="#111" stroke-width="0.9"/>
<line x1="78.3" y1="373.3" x2="75.89999999999999" y2="373.3" stroke="#111" stroke-width="0.9"/>
<text class="t" x="187.2" y="489.0" text-anchor="middle">15</text>
<text class="t" x="74.5" y="375.9" text-anchor="end">15</text>
<line x1="223.1" y1="479.3" x2="223.1" y2="481.7" stroke="#111" stroke-width="0.9"/>
<line x1="78.3" y1="338.0" x2="75.89999999999999" y2="338.0" stroke="#111" stroke-width="0.9"/>
<text class="t" x="223.4" y="489.0" text-anchor="middle">20</text>
<text class="t" x="74.5" y="340.6" text-anchor="end">20</text>
<line x1="259.3" y1="479.3" x2="259.3" y2="481.7" stroke="#111" stroke-width="0.9"/>
<line x1="78.3" y1="302.7" x2="75.89999999999999" y2="302.7" stroke="#111" stroke-width="0.9"/>
<text class="t" x="259.6" y="489.0" text-anchor="middle">25</text>
<text class="t" x="74.5" y="305.3" text-anchor="end">25</text>
<text class="t" x="172.4" y="498.6" text-anchor="middle">Station (m/s)</text>
<text class="t" transform="translate(60.5,387.5) rotate(-90)" text-anchor="middle">CYGNSS (m/s)</text>
<text class="t" x="88.1" y="309.9"># Matches: 25705</text>
<text class="t" x="88.1" y="319.1">R: 0.65</text>
<text class="t" x="88.1" y="328.3">RMSD: 2.18</text>
<text class="t" x="88.1" y="337.5">Bias: -0.83</text>
<clipPath id="cpd"><rect x="357.3" y="295.6" width="189.1" height="183.7"/></clipPath>
<g clip-path="url(#cpd)"><g filter="url(#bl)"><g transform="translate(357.3,479.3) scale(3.6365,-3.5327)" shape-rendering="crispEdges">
<path fill="#ebf4fb" d="M0 1h1v1h-1zM0 2h1v1h-1zM0 7h1v1h-1zM1 7h1v1h-1zM1 9h1v1h-1zM1 10h1v1h-1zM2 10h1v1h-1zM2 14h1v1h-1zM3 12h1v1h-1zM3 13h1v1h-1zM4 15h1v1h-1zM6 17h1v1h-1zM6 18h1v1h-1zM7 18h1v1h-1zM8 0h1v1h-1zM8 18h1v1h-1zM8 19h1v1h-1zM8 21h1v1h-1zM9 21h1v1h-1zM9 24h1v1h-1zM10 1h1v1h-1zM10 19h1v1h-1zM11 1h1v1h-1zM11 2h1v1h-1zM11 21h1v1h-1zM11 22h1v1h-1zM11 27h1v1h-1zM12 2h1v1h-1zM12 21h1v1h-1zM12 25h1v1h-1zM12 26h1v1h-1zM13 2h1v1h-1zM13 23h1v1h-1zM13 26h1v1h-1zM14 23h1v1h-1zM14 24h1v1h-1zM15 3h1v1h-1zM15 22h1v1h-1zM15 24h1v1h-1zM16 6h1v1h-1zM17 6h1v1h-1zM17 7h1v1h-1zM19 23h1v1h-1zM19 24h1v1h-1zM20 9h1v1h-1zM20 11h1v1h-1zM20 24h1v1h-1zM21 23h1v1h-1zM21 24h1v1h-1zM22 10h1v1h-1zM22 23h1v1h-1zM23 11h1v1h-1zM23 13h1v1h-1zM23 20h1v1h-1zM23 23h1v1h-1zM23 24h1v1h-1zM24 18h1v1h-1zM24 21h1v1h-1zM24 22h1v1h-1zM24 24h1v1h-1zM25 7h1v1h-1zM25 11h1v1h-1zM25 13h1v1h-1zM25 14h1v1h-1zM25 18h1v1h-1zM25 19h1v1h-1zM25 21h1v1h-1zM25 23h1v1h-1zM26 11h1v1h-1zM26 18h1v1h-1zM26 19h1v1h-1zM27 17h1v1h-1zM27 19h1v1h-1zM29 17h1v1h-1zM31 16h1v1h-1zM31 26h1v1h-1zM32 23h1v1h-1zM32 26h1v1h-1zM33 17h1v1h-1zM35 19h1v1h-1zM35 25h1v1h-1zM36 18h1v1h-1zM38 18h1v1h-1zM41 22h1v1h-1zM43 23h1v1h-1z"/>
<path fill="#d7eaf7" d="M0 3h1v1h-1zM0 5h1v1h-1zM0 6h1v1h-1zM1 8h1v1h-1zM3 9h1v1h-1zM3 10h1v1h-1zM4 12h1v1h-1zM4 13h1v1h-1zM4 14h1v1h-1zM6 0h1v1h-1zM7 17h1v1h-1zM8 16h1v1h-1zM9 17h1v1h-1zM9 18h1v1h-1zM10 0h1v1h-1zM12 1h1v1h-1zM13 25h1v1h-1zM14 4h1v1h-1zM14 22h1v1h-1zM16 23h1v1h-1zM17 23h1v1h-1zM18 23h1v1h-1zM19 25h1v1h-1zM21 9h1v1h-1zM21 10h1v1h-1zM22 12h1v1h-1zM22 21h1v1h-1zM22 22h1v1h-1zM23 12h1v1h-1zM24 15h1v1h-1zM25 16h1v1h-1z"/>
<path fill="#c9e2f4" d="M1 1h1v1h-1zM1 6h1v1h-1zM4 0h1v1h-1zM4 11h1v1h-1zM6 14h1v1h-1zM6 16h1v1h-1zM10 18h1v1h-1zM10 20h1v1h-1zM12 3h1v1h-1zM13 3h1v1h-1zM13 20h1v1h-1zM14 21h1v1h-1zM15 5h1v1h-1zM15 6h1v1h-1zM15 23h1v1h-1zM16 5h1v1h-1zM16 7h1v1h-1zM17 19h1v1h-1zM18 24h1v1h-1zM19 9h1v1h-1zM20 10h1v1h-1zM21 11h1v1h-1zM21 12h1v1h-1zM22 14h1v1h-1zM23 14h1v1h-1zM23 15h1v1h-1zM24 13h1v1h-1z"/>
<path fill="#bcdcf2" d="M1 2h1v1h-1zM1 5h1v1h-1zM2 8h1v1h-1zM3 0h1v1h-1zM4 10h1v1h-1zM5 14h1v1h-1zM6 15h1v1h-1zM7 13h1v1h-1zM7 15h1v1h-1zM10 2h1v1h-1zM11 19h1v1h-1zM14 5h1v1h-1zM16 20h1v1h-1zM16 21h1v1h-1zM17 8h1v1h-1zM18 22h1v1h-1zM19 21h1v1h-1zM19 22h1v1h-1zM21 21h1v1h-1zM21 22h1v1h-1zM23 21h1v1h-1zM24 14h1v1h-1zM24 17h1v1h-1zM24 19h1v1h-1zM25 20h1v1h-1z"/>
<path fill="#aed6ef" d="M0 4h1v1h-1zM2 6h1v1h-1zM2 9h1v1h-1zM9 13h1v1h-1zM9 19h1v1h-1zM11 20h1v1h-1zM12 19h1v1h-1zM13 4h1v1h-1zM13 21h1v1h-1zM14 6h1v1h-1zM14 19h1v1h-1zM18 8h1v1h-1zM18 9h1v1h-1zM20 12h1v1h-1zM20 22h1v1h-1zM22 20h1v1h-1z"/>
<path fill="#94ceea" d="M1 3h1v1h-1zM3 8h1v1h-1zM5 0h1v1h-1zM5 12h1v1h-1zM9 16h1v1h-1zM10 17h1v1h-1zM11 18h1v1h-1zM12 4h1v1h-1zM13 18h1v1h-1zM14 20h1v1h-1zM15 18h1v1h-1zM16 22h1v1h-1zM17 22h1v1h-1zM18 20h1v1h-1zM22 13h1v1h-1zM22 19h1v1h-1zM23 19h1v1h-1z"/>
<path fill="#87c9e8" d="M1 4h1v1h-1zM2 1h1v1h-1zM6 13h1v1h-1zM7 14h1v1h-1zM8 14h1v1h-1zM9 15h1v1h-1zM10 16h1v1h-1zM11 17h1v1h-1zM12 18h1v1h-1zM19 10h1v1h-1zM21 15h1v1h-1zM21 16h1v1h-1z"/>
<path fill="#7ac5e6" d="M2 7h1v1h-1zM4 9h1v1h-1zM8 15h1v1h-1zM9 1h1v1h-1zM10 15h1v1h-1zM13 5h1v1h-1zM15 20h1v1h-1zM15 21h1v1h-1zM18 19h1v1h-1zM18 21h1v1h-1zM22 15h1v1h-1zM22 16h1v1h-1zM22 17h1v1h-1zM23 18h1v1h-1z"/>
<path fill="#66bee3" d="M2 4h1v1h-1zM3 6h1v1h-1zM5 10h1v1h-1zM5 11h1v1h-1zM6 12h1v1h-1zM7 11h1v1h-1zM9 2h1v1h-1zM11 3h1v1h-1zM12 15h1v1h-1zM12 17h1v1h-1zM12 20h1v1h-1zM16 8h1v1h-1zM17 20h1v1h-1zM17 21h1v1h-1zM20 20h1v1h-1zM20 21h1v1h-1zM21 13h1v1h-1zM21 20h1v1h-1zM23 16h1v1h-1zM23 17h1v1h-1z"/>
<path fill="#51b8e0" d="M2 3h1v1h-1zM7 1h1v1h-1zM13 19h1v1h-1zM14 18h1v1h-1zM19 11h1v1h-1zM20 19h1v1h-1zM21 19h1v1h-1zM22 18h1v1h-1z"/>
<path fill="#3db2dd" d="M3 7h1v1h-1zM8 1h1v1h-1zM9 14h1v1h-1zM12 5h1v1h-1zM13 17h1v1h-1zM15 7h1v1h-1zM15 19h1v1h-1zM16 19h1v1h-1zM17 9h1v1h-1zM19 17h1v1h-1zM20 13h1v1h-1zM20 17h1v1h-1zM20 18h1v1h-1zM21 14h1v1h-1zM21 17h1v1h-1zM21 18h1v1h-1z"/>
<path fill="#28abda" d="M2 2h1v1h-1zM4 7h1v1h-1zM7 12h1v1h-1zM8 2h1v1h-1zM18 10h1v1h-1zM18 11h1v1h-1z"/>
<path fill="#1da6d8" d="M2 5h1v1h-1zM3 1h1v1h-1zM3 5h1v1h-1zM4 8h1v1h-1zM5 9h1v1h-1zM6 10h1v1h-1zM6 11h1v1h-1zM8 13h1v1h-1zM9 3h1v1h-1zM9 12h1v1h-1zM10 4h1v1h-1zM10 14h1v1h-1zM11 4h1v1h-1zM12 14h1v1h-1zM12 16h1v1h-1zM14 7h1v1h-1zM16 9h1v1h-1zM16 17h1v1h-1zM16 18h1v1h-1zM18 12h1v1h-1zM18 18h1v1h-1zM19 12h1v1h-1zM19 18h1v1h-1zM20 15h1v1h-1zM20 16h1v1h-1z"/>
<path fill="#13a1d6" d="M5 8h1v1h-1zM7 2h1v1h-1zM8 11h1v1h-1zM8 12h1v1h-1zM11 14h1v1h-1zM11 16h1v1h-1zM13 16h1v1h-1zM14 17h1v1h-1zM15 8h1v1h-1zM15 17h1v1h-1zM17 17h1v1h-1zM18 16h1v1h-1zM19 14h1v1h-1zM19 15h1v1h-1zM19 19h1v1h-1zM19 20h1v1h-1z"/>
<path fill="#0a9cd3" d="M6 8h1v1h-1zM10 3h1v1h-1zM12 13h1v1h-1zM13 14h1v1h-1zM13 15h1v1h-1zM15 15h1v1h-1zM17 15h1v1h-1zM17 16h1v1h-1zM17 18h1v1h-1zM18 13h1v1h-1zM18 14h1v1h-1zM19 13h1v1h-1zM19 16h1v1h-1zM20 14h1v1h-1z"/>
<path fill="#0a94d0" d="M4 6h1v1h-1zM5 1h1v1h-1zM6 1h1v1h-1zM6 9h1v1h-1zM7 10h1v1h-1zM10 13h1v1h-1zM11 5h1v1h-1zM11 15h1v1h-1zM13 6h1v1h-1zM14 16h1v1h-1zM17 10h1v1h-1zM17 11h1v1h-1zM18 15h1v1h-1zM18 17h1v1h-1z"/>
<path fill="#0a8dcd" d="M3 2h1v1h-1zM3 3h1v1h-1zM3 4h1v1h-1zM4 1h1v1h-1zM4 2h1v1h-1zM5 7h1v1h-1zM8 3h1v1h-1zM11 12h1v1h-1zM11 13h1v1h-1zM14 8h1v1h-1zM14 15h1v1h-1zM15 9h1v1h-1zM15 16h1v1h-1zM16 15h1v1h-1zM16 16h1v1h-1zM17 13h1v1h-1z"/>
<path fill="#0a86ca" d="M4 5h1v1h-1zM8 10h1v1h-1zM9 4h1v1h-1zM9 11h1v1h-1zM10 9h1v1h-1zM10 12h1v1h-1zM11 6h1v1h-1zM12 6h1v1h-1zM13 7h1v1h-1zM16 10h1v1h-1zM17 14h1v1h-1z"/>
<path fill="#0a7fc7" d="M4 4h1v1h-1zM5 2h1v1h-1zM5 3h1v1h-1zM6 6h1v1h-1zM7 9h1v1h-1zM10 5h1v1h-1zM12 12h1v1h-1zM13 13h1v1h-1zM14 9h1v1h-1zM14 13h1v1h-1zM14 14h1v1h-1zM16 11h1v1h-1zM16 12h1v1h-1zM17 12h1v1h-1z"/>
<path fill="#0a78c4" d="M6 2h1v1h-1zM6 4h1v1h-1zM6 7h1v1h-1zM7 3h1v1h-1zM7 4h1v1h-1zM8 4h1v1h-1zM8 9h1v1h-1zM9 5h1v1h-1zM9 10h1v1h-1zM10 11h1v1h-1zM11 10h1v1h-1zM12 7h1v1h-1zM13 8h1v1h-1zM13 9h1v1h-1zM15 14h1v1h-1zM16 14h1v1h-1z"/>
<path fill="#0a71be" d="M4 3h1v1h-1zM5 4h1v1h-1zM5 5h1v1h-1zM5 6h1v1h-1zM7 5h1v1h-1zM7 7h1v1h-1zM7 8h1v1h-1zM8 5h1v1h-1zM8 8h1v1h-1zM9 9h1v1h-1zM10 6h1v1h-1zM11 11h1v1h-1zM12 8h1v1h-1zM13 10h1v1h-1zM13 11h1v1h-1zM13 12h1v1h-1zM15 10h1v1h-1zM15 11h1v1h-1zM15 13h1v1h-1z"/>
<path fill="#0a6ab8" d="M6 3h1v1h-1zM8 6h1v1h-1zM9 6h1v1h-1zM9 7h1v1h-1zM9 8h1v1h-1zM10 7h1v1h-1zM10 10h1v1h-1zM11 7h1v1h-1zM14 10h1v1h-1zM14 12h1v1h-1zM15 12h1v1h-1zM16 13h1v1h-1z"/>
<path fill="#0a63b1" d="M6 5h1v1h-1zM8 7h1v1h-1zM10 8h1v1h-1zM11 8h1v1h-1zM11 9h1v1h-1zM12 9h1v1h-1zM12 11h1v1h-1zM14 11h1v1h-1z"/>
<path fill="#0a5cab" d="M7 6h1v1h-1zM12 10h1v1h-1z"/>
</g></g></g>
<line x1="357.3" y1="469.1" x2="513.7" y2="373.3" stroke="#7f7f7f" stroke-width="1.3"/>
<line x1="357.3" y1="479.3" x2="546.4" y2="295.6" stroke="#000" stroke-width="1.15" stroke-dasharray="3.9 1.7"/>
<line x1="357.3" y1="295.6" x2="546.4" y2="295.6" stroke="#a8a8a8" stroke-width="0.9"/>
<line x1="546.4" y1="295.6" x2="546.4" y2="479.3" stroke="#8a8a8a" stroke-width="0.8"/>
<line x1="357.3" y1="295.3" x2="357.3" y2="479.7" stroke="#3c3c3c" stroke-width="0.9"/>
<line x1="356.90000000000003" y1="479.3" x2="546.6999999999999" y2="479.3" stroke="#3c3c3c" stroke-width="0.9"/>
<line x1="357.3" y1="479.3" x2="357.3" y2="481.7" stroke="#111" stroke-width="0.9"/>
<line x1="357.3" y1="479.3" x2="354.90000000000003" y2="479.3" stroke="#111" stroke-width="0.9"/>
<text class="t" x="357.6" y="489.0" text-anchor="middle">0</text>
<text class="t" x="353.5" y="481.9" text-anchor="end">0</text>
<line x1="393.7" y1="479.3" x2="393.7" y2="481.7" stroke="#111" stroke-width="0.9"/>
<line x1="357.3" y1="444.0" x2="354.90000000000003" y2="444.0" stroke="#111" stroke-width="0.9"/>
<text class="t" x="394.0" y="489.0" text-anchor="middle">5</text>
<text class="t" x="353.5" y="446.6" text-anchor="end">5</text>
<line x1="430.0" y1="479.3" x2="430.0" y2="481.7" stroke="#111" stroke-width="0.9"/>
<line x1="357.3" y1="408.6" x2="354.90000000000003" y2="408.6" stroke="#111" stroke-width="0.9"/>
<text class="t" x="430.3" y="489.0" text-anchor="middle">10</text>
<text class="t" x="353.5" y="411.2" text-anchor="end">10</text>
<line x1="466.4" y1="479.3" x2="466.4" y2="481.7" stroke="#111" stroke-width="0.9"/>
<line x1="357.3" y1="373.3" x2="354.90000000000003" y2="373.3" stroke="#111" stroke-width="0.9"/>
<text class="t" x="466.7" y="489.0" text-anchor="middle">15</text>
<text class="t" x="353.5" y="375.9" text-anchor="end">15</text>
<line x1="502.8" y1="479.3" x2="502.8" y2="481.7" stroke="#111" stroke-width="0.9"/>
<line x1="357.3" y1="338.0" x2="354.90000000000003" y2="338.0" stroke="#111" stroke-width="0.9"/>
<text class="t" x="503.1" y="489.0" text-anchor="middle">20</text>
<text class="t" x="353.5" y="340.6" text-anchor="end">20</text>
<line x1="539.1" y1="479.3" x2="539.1" y2="481.7" stroke="#111" stroke-width="0.9"/>
<line x1="357.3" y1="302.7" x2="354.90000000000003" y2="302.7" stroke="#111" stroke-width="0.9"/>
<text class="t" x="539.4" y="489.0" text-anchor="middle">25</text>
<text class="t" x="353.5" y="305.3" text-anchor="end">25</text>
<text class="t" x="451.9" y="498.6" text-anchor="middle">Station (m/s)</text>
<text class="t" transform="translate(339.5,387.5) rotate(-90)" text-anchor="middle">CYGNSS (m/s)</text>
<text class="t" x="367.1" y="309.9"># Matches: 6675</text>
<text class="t" x="367.1" y="319.1">R: 0.73</text>
<text class="t" x="367.1" y="328.3">RMSD: 2.03</text>
<text class="t" x="367.1" y="337.5">Bias: -0.91</text>
<rect x="167.2" y="251.4" width="273.8" height="12.799999999999983" fill="url(#cm)" stroke="#2a2a2a" stroke-width="1.1"/>
<line x1="167.2" y1="264.2" x2="167.2" y2="267.5" stroke="#222" stroke-width="0.9"/>
<text class="c" x="167.3" y="279.6" text-anchor="middle">10<tspan dy="-3.9" font-size="7">0</tspan></text>
<line x1="194.7" y1="264.2" x2="194.7" y2="266.2" stroke="#111" stroke-width="0.9"/>
<line x1="210.8" y1="264.2" x2="210.8" y2="266.2" stroke="#111" stroke-width="0.9"/>
<line x1="222.2" y1="264.2" x2="222.2" y2="266.2" stroke="#111" stroke-width="0.9"/>
<line x1="231.0" y1="264.2" x2="231.0" y2="266.2" stroke="#111" stroke-width="0.9"/>
<line x1="238.2" y1="264.2" x2="238.2" y2="266.2" stroke="#111" stroke-width="0.9"/>
<line x1="244.4" y1="264.2" x2="244.4" y2="266.2" stroke="#111" stroke-width="0.9"/>
<line x1="249.7" y1="264.2" x2="249.7" y2="266.2" stroke="#111" stroke-width="0.9"/>
<line x1="254.3" y1="264.2" x2="254.3" y2="266.2" stroke="#111" stroke-width="0.9"/>
<line x1="258.5" y1="264.2" x2="258.5" y2="267.5" stroke="#222" stroke-width="0.9"/>
<text class="c" x="258.6" y="279.6" text-anchor="middle">10<tspan dy="-3.9" font-size="7">1</tspan></text>
<line x1="286.0" y1="264.2" x2="286.0" y2="266.2" stroke="#111" stroke-width="0.9"/>
<line x1="302.1" y1="264.2" x2="302.1" y2="266.2" stroke="#111" stroke-width="0.9"/>
<line x1="313.5" y1="264.2" x2="313.5" y2="266.2" stroke="#111" stroke-width="0.9"/>
<line x1="322.3" y1="264.2" x2="322.3" y2="266.2" stroke="#111" stroke-width="0.9"/>
<line x1="329.5" y1="264.2" x2="329.5" y2="266.2" stroke="#111" stroke-width="0.9"/>
<line x1="335.7" y1="264.2" x2="335.7" y2="266.2" stroke="#111" stroke-width="0.9"/>
<line x1="341.0" y1="264.2" x2="341.0" y2="266.2" stroke="#111" stroke-width="0.9"/>
<line x1="345.6" y1="264.2" x2="345.6" y2="266.2" stroke="#111" stroke-width="0.9"/>
<line x1="349.8" y1="264.2" x2="349.8" y2="267.5" stroke="#222" stroke-width="0.9"/>
<text class="c" x="349.9" y="279.6" text-anchor="middle">10<tspan dy="-3.9" font-size="7">2</tspan></text>
<line x1="377.3" y1="264.2" x2="377.3" y2="266.2" stroke="#111" stroke-width="0.9"/>
<line x1="393.4" y1="264.2" x2="393.4" y2="266.2" stroke="#111" stroke-width="0.9"/>
<line x1="404.8" y1="264.2" x2="404.8" y2="266.2" stroke="#111" stroke-width="0.9"/>
<line x1="413.6" y1="264.2" x2="413.6" y2="266.2" stroke="#111" stroke-width="0.9"/>
<line x1="420.8" y1="264.2" x2="420.8" y2="266.2" stroke="#111" stroke-width="0.9"/>
<line x1="427.0" y1="264.2" x2="427.0" y2="266.2" stroke="#111" stroke-width="0.9"/>
<line x1="432.3" y1="264.2" x2="432.3" y2="266.2" stroke="#111" stroke-width="0.9"/>
<line x1="436.9" y1="264.2" x2="436.9" y2="266.2" stroke="#111" stroke-width="0.9"/>
<line x1="441.1" y1="264.2" x2="441.1" y2="267.5" stroke="#222" stroke-width="0.9"/>
<text class="c" x="441.2" y="279.6" text-anchor="middle">10<tspan dy="-3.9" font-size="7">3</tspan></text>
<text class="c" x="304.1" y="292.8" text-anchor="middle"># meas.</text>
<rect x="167.0" y="530.0" width="281.5" height="13.600000000000023" fill="url(#cm)" stroke="#2a2a2a" stroke-width="1.1"/>
<line x1="167.0" y1="543.6" x2="167.0" y2="546.9" stroke="#222" stroke-width="0.9"/>
<text class="c" x="167.1" y="559.0" text-anchor="middle">10<tspan dy="-3.9" font-size="7">0</tspan></text>
<line x1="203.9" y1="543.6" x2="203.9" y2="545.6" stroke="#111" stroke-width="0.9"/>
<line x1="225.5" y1="543.6" x2="225.5" y2="545.6" stroke="#111" stroke-width="0.9"/>
<line x1="240.9" y1="543.6" x2="240.9" y2="545.6" stroke="#111" stroke-width="0.9"/>
<line x1="252.8" y1="543.6" x2="252.8" y2="545.6" stroke="#111" stroke-width="0.9"/>
<line x1="262.5" y1="543.6" x2="262.5" y2="545.6" stroke="#111" stroke-width="0.9"/>
<line x1="270.7" y1="543.6" x2="270.7" y2="545.6" stroke="#111" stroke-width="0.9"/>
<line x1="277.8" y1="543.6" x2="277.8" y2="545.6" stroke="#111" stroke-width="0.9"/>
<line x1="284.1" y1="543.6" x2="284.1" y2="545.6" stroke="#111" stroke-width="0.9"/>
<line x1="289.7" y1="543.6" x2="289.7" y2="546.9" stroke="#222" stroke-width="0.9"/>
<text class="c" x="289.8" y="559.0" text-anchor="middle">10<tspan dy="-3.9" font-size="7">1</tspan></text>
<line x1="326.6" y1="543.6" x2="326.6" y2="545.6" stroke="#111" stroke-width="0.9"/>
<line x1="348.2" y1="543.6" x2="348.2" y2="545.6" stroke="#111" stroke-width="0.9"/>
<line x1="363.6" y1="543.6" x2="363.6" y2="545.6" stroke="#111" stroke-width="0.9"/>
<line x1="375.5" y1="543.6" x2="375.5" y2="545.6" stroke="#111" stroke-width="0.9"/>
<line x1="385.2" y1="543.6" x2="385.2" y2="545.6" stroke="#111" stroke-width="0.9"/>
<line x1="393.4" y1="543.6" x2="393.4" y2="545.6" stroke="#111" stroke-width="0.9"/>
<line x1="400.5" y1="543.6" x2="400.5" y2="545.6" stroke="#111" stroke-width="0.9"/>
<line x1="406.8" y1="543.6" x2="406.8" y2="545.6" stroke="#111" stroke-width="0.9"/>
<line x1="412.4" y1="543.6" x2="412.4" y2="546.9" stroke="#222" stroke-width="0.9"/>
<text class="c" x="412.5" y="559.0" text-anchor="middle">10<tspan dy="-3.9" font-size="7">2</tspan></text>
<text class="c" x="307.8" y="572.2" text-anchor="middle"># meas.</text>
<text class="s" x="161.5" y="14.9" font-size="15" text-anchor="middle" textLength="26.7" lengthAdjust="spacingAndGlyphs">FDS</text>
<text class="s" x="440.8" y="14.9" font-size="15" text-anchor="middle" textLength="46.4" lengthAdjust="spacingAndGlyphs">NOAA</text>
<text class="s" transform="translate(13.8,220.2) rotate(-90)" font-size="14.5" textLength="173.2" lengthAdjust="spacingAndGlyphs">Australia (1 hr avg. speed)</text>
<text class="s" transform="translate(13.8,465.0) rotate(-90)" font-size="14.5" textLength="121.4" lengthAdjust="spacingAndGlyphs">Pacific (1 min. gust)</text>
<text class="s" x="161.4" y="240.8" font-size="15.6" text-anchor="middle">(<tspan font-weight="bold" stroke-width="0">a</tspan>)</text>
<text class="s" x="440.9" y="240.8" font-size="15.6" text-anchor="middle">(<tspan font-weight="bold" stroke-width="0">b</tspan>)</text>
<text class="s" x="161.4" y="515.6" font-size="15.6" text-anchor="middle">(<tspan font-weight="normal" stroke-width="0.2">c</tspan>)</text>
<text class="s" x="441.3" y="515.6" font-size="15.6" text-anchor="middle">(<tspan font-weight="normal" stroke-width="0.2">d</tspan>)</text>
</svg></body></html>
